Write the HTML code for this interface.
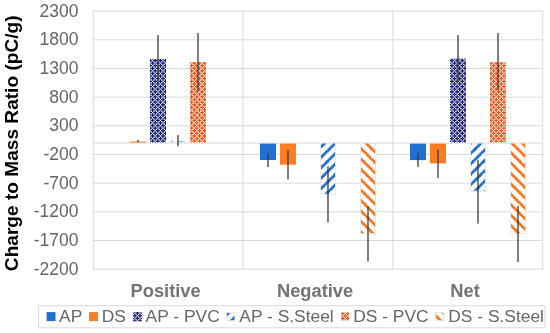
<!DOCTYPE html><html><head><meta charset="utf-8"><style>html,body{margin:0;padding:0;background:#fff;overflow:hidden}svg{display:block}text{font-family:'Liberation Sans', Arial, sans-serif}</style></head><body>
<svg width="550" height="333" viewBox="0 0 550 333">
<defs>
<pattern id="pNavy" patternUnits="userSpaceOnUse" x="1.017" y="1.293" width="5.2052" height="5.2052"><rect width="5.2052" height="5.2052" fill="#fff"/><path fill="#0b166c" d="M0.0000,0.0000h1.3013v1.3013h-1.3013zM2.6026,0.0000h1.3013v1.3013h-1.3013zM1.3013,1.3013h3.9039v1.3013h-3.9039zM0.0000,2.6026h1.3013v1.3013h-1.3013zM2.6026,2.6026h1.3013v1.3013h-1.3013zM0.0000,3.9039h2.6026v1.3013h-2.6026zM3.9039,3.9039h1.3013v1.3013h-1.3013z"/></pattern>
<pattern id="pOrD" patternUnits="userSpaceOnUse" x="1.017" y="1.293" width="5.2052" height="5.2052"><rect width="5.2052" height="5.2052" fill="#fff"/><path fill="#e25012" d="M0.0000,0.0000h1.3013v1.3013h-1.3013zM2.6026,0.0000h1.3013v1.3013h-1.3013zM1.3013,1.3013h3.9039v1.3013h-3.9039zM0.0000,2.6026h1.3013v1.3013h-1.3013zM2.6026,2.6026h1.3013v1.3013h-1.3013zM0.0000,3.9039h2.6026v1.3013h-2.6026zM3.9039,3.9039h1.3013v1.3013h-1.3013z"/></pattern>
<pattern id="pBlS" patternUnits="userSpaceOnUse" x="10.000" y="0.000" width="10.4104" height="10.4104"><rect width="10.4104" height="10.4104" fill="#fff"/><path fill="#1f70d0" d="M0.0000,0.0000h1.3013v1.3013h-1.3013zM7.8078,0.0000h2.6026v1.3013h-2.6026zM6.5065,1.3013h3.9039v1.3013h-3.9039zM5.2052,2.6026h3.9039v1.3013h-3.9039zM3.9039,3.9039h3.9039v1.3013h-3.9039zM2.6026,5.2052h3.9039v1.3013h-3.9039zM1.3013,6.5065h3.9039v1.3013h-3.9039zM0.0000,7.8078h3.9039v1.3013h-3.9039zM0.0000,9.1091h2.6026v1.3013h-2.6026zM9.1091,9.1091h1.3013v1.3013h-1.3013z"/></pattern>
<pattern id="pOrS" patternUnits="userSpaceOnUse" x="4.300" y="0.000" width="10.4104" height="10.4104"><rect width="10.4104" height="10.4104" fill="#fff"/><path fill="#f87520" d="M0.0000,0.0000h2.6026v1.3013h-2.6026zM9.1091,0.0000h1.3013v1.3013h-1.3013zM0.0000,1.3013h3.9039v1.3013h-3.9039zM1.3013,2.6026h3.9039v1.3013h-3.9039zM2.6026,3.9039h3.9039v1.3013h-3.9039zM3.9039,5.2052h3.9039v1.3013h-3.9039zM5.2052,6.5065h3.9039v1.3013h-3.9039zM6.5065,7.8078h3.9039v1.3013h-3.9039zM0.0000,9.1091h1.3013v1.3013h-1.3013zM7.8078,9.1091h2.6026v1.3013h-2.6026z"/></pattern>
</defs>
<line x1="93.3" y1="11.15" x2="542.7" y2="11.15" stroke="#d9d9d9" stroke-width="1"/>
<line x1="93.3" y1="39.82" x2="542.7" y2="39.82" stroke="#d9d9d9" stroke-width="1"/>
<line x1="93.3" y1="68.49" x2="542.7" y2="68.49" stroke="#d9d9d9" stroke-width="1"/>
<line x1="93.3" y1="97.16" x2="542.7" y2="97.16" stroke="#d9d9d9" stroke-width="1"/>
<line x1="93.3" y1="125.83" x2="542.7" y2="125.83" stroke="#d9d9d9" stroke-width="1"/>
<line x1="93.3" y1="154.50" x2="542.7" y2="154.50" stroke="#d9d9d9" stroke-width="1"/>
<line x1="93.3" y1="183.17" x2="542.7" y2="183.17" stroke="#d9d9d9" stroke-width="1"/>
<line x1="93.3" y1="211.84" x2="542.7" y2="211.84" stroke="#d9d9d9" stroke-width="1"/>
<line x1="93.3" y1="240.51" x2="542.7" y2="240.51" stroke="#d9d9d9" stroke-width="1"/>
<line x1="93.3" y1="269.18" x2="542.7" y2="269.18" stroke="#d9d9d9" stroke-width="1"/>
<line x1="93.30" y1="10.65" x2="93.30" y2="269.68" stroke="#d9d9d9" stroke-width="1"/>
<line x1="243.00" y1="10.65" x2="243.00" y2="269.68" stroke="#d9d9d9" stroke-width="1"/>
<line x1="392.90" y1="10.65" x2="392.90" y2="269.68" stroke="#d9d9d9" stroke-width="1"/>
<line x1="542.70" y1="10.65" x2="542.70" y2="269.68" stroke="#d9d9d9" stroke-width="1"/>
<line x1="93.3" y1="143.10" x2="542.7" y2="143.10" stroke="#d9d9d9" stroke-width="1"/>
<rect x="130" y="141.50" width="16" height="1.10" fill="#fd7e22"/>
<rect x="150" y="59.00" width="16" height="83.60" fill="#fff"/>
<path fill="#0b166c" d="M150.00 59.00H150.67V59.85H150.00zM151.97 59.00H153.27V59.85H151.97zM154.57 59.00H155.87V59.85H154.57zM157.17 59.00H158.47V59.85H157.17zM159.78 59.00H161.08V59.85H159.78zM162.38 59.00H163.68V59.85H162.38zM164.98 59.00H166.00V59.85H164.98zM150.00 59.85H151.97V61.15H150.00zM153.27 59.85H157.17V61.15H153.27zM158.47 59.85H162.38V61.15H158.47zM163.68 59.85H166.00V61.15H163.68zM150.00 61.15H150.67V62.45H150.00zM151.97 61.15H153.27V62.45H151.97zM154.57 61.15H155.87V62.45H154.57zM157.17 61.15H158.47V62.45H157.17zM159.78 61.15H161.08V62.45H159.78zM162.38 61.15H163.68V62.45H162.38zM164.98 61.15H166.00V62.45H164.98zM150.67 62.45H154.57V63.76H150.67zM155.87 62.45H159.78V63.76H155.87zM161.08 62.45H164.98V63.76H161.08zM150.00 63.76H150.67V65.06H150.00zM151.97 63.76H153.27V65.06H151.97zM154.57 63.76H155.87V65.06H154.57zM157.17 63.76H158.47V65.06H157.17zM159.78 63.76H161.08V65.06H159.78zM162.38 63.76H163.68V65.06H162.38zM164.98 63.76H166.00V65.06H164.98zM150.00 65.06H151.97V66.36H150.00zM153.27 65.06H157.17V66.36H153.27zM158.47 65.06H162.38V66.36H158.47zM163.68 65.06H166.00V66.36H163.68zM150.00 66.36H150.67V67.66H150.00zM151.97 66.36H153.27V67.66H151.97zM154.57 66.36H155.87V67.66H154.57zM157.17 66.36H158.47V67.66H157.17zM159.78 66.36H161.08V67.66H159.78zM162.38 66.36H163.68V67.66H162.38zM164.98 66.36H166.00V67.66H164.98zM150.67 67.66H154.57V68.96H150.67zM155.87 67.66H159.78V68.96H155.87zM161.08 67.66H164.98V68.96H161.08zM150.00 68.96H150.67V70.26H150.00zM151.97 68.96H153.27V70.26H151.97zM154.57 68.96H155.87V70.26H154.57zM157.17 68.96H158.47V70.26H157.17zM159.78 68.96H161.08V70.26H159.78zM162.38 68.96H163.68V70.26H162.38zM164.98 68.96H166.00V70.26H164.98zM150.00 70.26H151.97V71.56H150.00zM153.27 70.26H157.17V71.56H153.27zM158.47 70.26H162.38V71.56H158.47zM163.68 70.26H166.00V71.56H163.68zM150.00 71.56H150.67V72.86H150.00zM151.97 71.56H153.27V72.86H151.97zM154.57 71.56H155.87V72.86H154.57zM157.17 71.56H158.47V72.86H157.17zM159.78 71.56H161.08V72.86H159.78zM162.38 71.56H163.68V72.86H162.38zM164.98 71.56H166.00V72.86H164.98zM150.67 72.86H154.57V74.17H150.67zM155.87 72.86H159.78V74.17H155.87zM161.08 72.86H164.98V74.17H161.08zM150.00 74.17H150.67V75.47H150.00zM151.97 74.17H153.27V75.47H151.97zM154.57 74.17H155.87V75.47H154.57zM157.17 74.17H158.47V75.47H157.17zM159.78 74.17H161.08V75.47H159.78zM162.38 74.17H163.68V75.47H162.38zM164.98 74.17H166.00V75.47H164.98zM150.00 75.47H151.97V76.77H150.00zM153.27 75.47H157.17V76.77H153.27zM158.47 75.47H162.38V76.77H158.47zM163.68 75.47H166.00V76.77H163.68zM150.00 76.77H150.67V78.07H150.00zM151.97 76.77H153.27V78.07H151.97zM154.57 76.77H155.87V78.07H154.57zM157.17 76.77H158.47V78.07H157.17zM159.78 76.77H161.08V78.07H159.78zM162.38 76.77H163.68V78.07H162.38zM164.98 76.77H166.00V78.07H164.98zM150.67 78.07H154.57V79.37H150.67zM155.87 78.07H159.78V79.37H155.87zM161.08 78.07H164.98V79.37H161.08zM150.00 79.37H150.67V80.67H150.00zM151.97 79.37H153.27V80.67H151.97zM154.57 79.37H155.87V80.67H154.57zM157.17 79.37H158.47V80.67H157.17zM159.78 79.37H161.08V80.67H159.78zM162.38 79.37H163.68V80.67H162.38zM164.98 79.37H166.00V80.67H164.98zM150.00 80.67H151.97V81.97H150.00zM153.27 80.67H157.17V81.97H153.27zM158.47 80.67H162.38V81.97H158.47zM163.68 80.67H166.00V81.97H163.68zM150.00 81.97H150.67V83.27H150.00zM151.97 81.97H153.27V83.27H151.97zM154.57 81.97H155.87V83.27H154.57zM157.17 81.97H158.47V83.27H157.17zM159.78 81.97H161.08V83.27H159.78zM162.38 81.97H163.68V83.27H162.38zM164.98 81.97H166.00V83.27H164.98zM150.67 83.27H154.57V84.58H150.67zM155.87 83.27H159.78V84.58H155.87zM161.08 83.27H164.98V84.58H161.08zM150.00 84.58H150.67V85.88H150.00zM151.97 84.58H153.27V85.88H151.97zM154.57 84.58H155.87V85.88H154.57zM157.17 84.58H158.47V85.88H157.17zM159.78 84.58H161.08V85.88H159.78zM162.38 84.58H163.68V85.88H162.38zM164.98 84.58H166.00V85.88H164.98zM150.00 85.88H151.97V87.18H150.00zM153.27 85.88H157.17V87.18H153.27zM158.47 85.88H162.38V87.18H158.47zM163.68 85.88H166.00V87.18H163.68zM150.00 87.18H150.67V88.48H150.00zM151.97 87.18H153.27V88.48H151.97zM154.57 87.18H155.87V88.48H154.57zM157.17 87.18H158.47V88.48H157.17zM159.78 87.18H161.08V88.48H159.78zM162.38 87.18H163.68V88.48H162.38zM164.98 87.18H166.00V88.48H164.98zM150.67 88.48H154.57V89.78H150.67zM155.87 88.48H159.78V89.78H155.87zM161.08 88.48H164.98V89.78H161.08zM150.00 89.78H150.67V91.08H150.00zM151.97 89.78H153.27V91.08H151.97zM154.57 89.78H155.87V91.08H154.57zM157.17 89.78H158.47V91.08H157.17zM159.78 89.78H161.08V91.08H159.78zM162.38 89.78H163.68V91.08H162.38zM164.98 89.78H166.00V91.08H164.98zM150.00 91.08H151.97V92.38H150.00zM153.27 91.08H157.17V92.38H153.27zM158.47 91.08H162.38V92.38H158.47zM163.68 91.08H166.00V92.38H163.68zM150.00 92.38H150.67V93.69H150.00zM151.97 92.38H153.27V93.69H151.97zM154.57 92.38H155.87V93.69H154.57zM157.17 92.38H158.47V93.69H157.17zM159.78 92.38H161.08V93.69H159.78zM162.38 92.38H163.68V93.69H162.38zM164.98 92.38H166.00V93.69H164.98zM150.67 93.69H154.57V94.99H150.67zM155.87 93.69H159.78V94.99H155.87zM161.08 93.69H164.98V94.99H161.08zM150.00 94.99H150.67V96.29H150.00zM151.97 94.99H153.27V96.29H151.97zM154.57 94.99H155.87V96.29H154.57zM157.17 94.99H158.47V96.29H157.17zM159.78 94.99H161.08V96.29H159.78zM162.38 94.99H163.68V96.29H162.38zM164.98 94.99H166.00V96.29H164.98zM150.00 96.29H151.97V97.59H150.00zM153.27 96.29H157.17V97.59H153.27zM158.47 96.29H162.38V97.59H158.47zM163.68 96.29H166.00V97.59H163.68zM150.00 97.59H150.67V98.89H150.00zM151.97 97.59H153.27V98.89H151.97zM154.57 97.59H155.87V98.89H154.57zM157.17 97.59H158.47V98.89H157.17zM159.78 97.59H161.08V98.89H159.78zM162.38 97.59H163.68V98.89H162.38zM164.98 97.59H166.00V98.89H164.98zM150.67 98.89H154.57V100.19H150.67zM155.87 98.89H159.78V100.19H155.87zM161.08 98.89H164.98V100.19H161.08zM150.00 100.19H150.67V101.49H150.00zM151.97 100.19H153.27V101.49H151.97zM154.57 100.19H155.87V101.49H154.57zM157.17 100.19H158.47V101.49H157.17zM159.78 100.19H161.08V101.49H159.78zM162.38 100.19H163.68V101.49H162.38zM164.98 100.19H166.00V101.49H164.98zM150.00 101.49H151.97V102.79H150.00zM153.27 101.49H157.17V102.79H153.27zM158.47 101.49H162.38V102.79H158.47zM163.68 101.49H166.00V102.79H163.68zM150.00 102.79H150.67V104.10H150.00zM151.97 102.79H153.27V104.10H151.97zM154.57 102.79H155.87V104.10H154.57zM157.17 102.79H158.47V104.10H157.17zM159.78 102.79H161.08V104.10H159.78zM162.38 102.79H163.68V104.10H162.38zM164.98 102.79H166.00V104.10H164.98zM150.67 104.10H154.57V105.40H150.67zM155.87 104.10H159.78V105.40H155.87zM161.08 104.10H164.98V105.40H161.08zM150.00 105.40H150.67V106.70H150.00zM151.97 105.40H153.27V106.70H151.97zM154.57 105.40H155.87V106.70H154.57zM157.17 105.40H158.47V106.70H157.17zM159.78 105.40H161.08V106.70H159.78zM162.38 105.40H163.68V106.70H162.38zM164.98 105.40H166.00V106.70H164.98zM150.00 106.70H151.97V108.00H150.00zM153.27 106.70H157.17V108.00H153.27zM158.47 106.70H162.38V108.00H158.47zM163.68 106.70H166.00V108.00H163.68zM150.00 108.00H150.67V109.30H150.00zM151.97 108.00H153.27V109.30H151.97zM154.57 108.00H155.87V109.30H154.57zM157.17 108.00H158.47V109.30H157.17zM159.78 108.00H161.08V109.30H159.78zM162.38 108.00H163.68V109.30H162.38zM164.98 108.00H166.00V109.30H164.98zM150.67 109.30H154.57V110.60H150.67zM155.87 109.30H159.78V110.60H155.87zM161.08 109.30H164.98V110.60H161.08zM150.00 110.60H150.67V111.90H150.00zM151.97 110.60H153.27V111.90H151.97zM154.57 110.60H155.87V111.90H154.57zM157.17 110.60H158.47V111.90H157.17zM159.78 110.60H161.08V111.90H159.78zM162.38 110.60H163.68V111.90H162.38zM164.98 110.60H166.00V111.90H164.98zM150.00 111.90H151.97V113.20H150.00zM153.27 111.90H157.17V113.20H153.27zM158.47 111.90H162.38V113.20H158.47zM163.68 111.90H166.00V113.20H163.68zM150.00 113.20H150.67V114.51H150.00zM151.97 113.20H153.27V114.51H151.97zM154.57 113.20H155.87V114.51H154.57zM157.17 113.20H158.47V114.51H157.17zM159.78 113.20H161.08V114.51H159.78zM162.38 113.20H163.68V114.51H162.38zM164.98 113.20H166.00V114.51H164.98zM150.67 114.51H154.57V115.81H150.67zM155.87 114.51H159.78V115.81H155.87zM161.08 114.51H164.98V115.81H161.08zM150.00 115.81H150.67V117.11H150.00zM151.97 115.81H153.27V117.11H151.97zM154.57 115.81H155.87V117.11H154.57zM157.17 115.81H158.47V117.11H157.17zM159.78 115.81H161.08V117.11H159.78zM162.38 115.81H163.68V117.11H162.38zM164.98 115.81H166.00V117.11H164.98zM150.00 117.11H151.97V118.41H150.00zM153.27 117.11H157.17V118.41H153.27zM158.47 117.11H162.38V118.41H158.47zM163.68 117.11H166.00V118.41H163.68zM150.00 118.41H150.67V119.71H150.00zM151.97 118.41H153.27V119.71H151.97zM154.57 118.41H155.87V119.71H154.57zM157.17 118.41H158.47V119.71H157.17zM159.78 118.41H161.08V119.71H159.78zM162.38 118.41H163.68V119.71H162.38zM164.98 118.41H166.00V119.71H164.98zM150.67 119.71H154.57V121.01H150.67zM155.87 119.71H159.78V121.01H155.87zM161.08 119.71H164.98V121.01H161.08zM150.00 121.01H150.67V122.31H150.00zM151.97 121.01H153.27V122.31H151.97zM154.57 121.01H155.87V122.31H154.57zM157.17 121.01H158.47V122.31H157.17zM159.78 121.01H161.08V122.31H159.78zM162.38 121.01H163.68V122.31H162.38zM164.98 121.01H166.00V122.31H164.98zM150.00 122.31H151.97V123.62H150.00zM153.27 122.31H157.17V123.62H153.27zM158.47 122.31H162.38V123.62H158.47zM163.68 122.31H166.00V123.62H163.68zM150.00 123.62H150.67V124.92H150.00zM151.97 123.62H153.27V124.92H151.97zM154.57 123.62H155.87V124.92H154.57zM157.17 123.62H158.47V124.92H157.17zM159.78 123.62H161.08V124.92H159.78zM162.38 123.62H163.68V124.92H162.38zM164.98 123.62H166.00V124.92H164.98zM150.67 124.92H154.57V126.22H150.67zM155.87 124.92H159.78V126.22H155.87zM161.08 124.92H164.98V126.22H161.08zM150.00 126.22H150.67V127.52H150.00zM151.97 126.22H153.27V127.52H151.97zM154.57 126.22H155.87V127.52H154.57zM157.17 126.22H158.47V127.52H157.17zM159.78 126.22H161.08V127.52H159.78zM162.38 126.22H163.68V127.52H162.38zM164.98 126.22H166.00V127.52H164.98zM150.00 127.52H151.97V128.82H150.00zM153.27 127.52H157.17V128.82H153.27zM158.47 127.52H162.38V128.82H158.47zM163.68 127.52H166.00V128.82H163.68zM150.00 128.82H150.67V130.12H150.00zM151.97 128.82H153.27V130.12H151.97zM154.57 128.82H155.87V130.12H154.57zM157.17 128.82H158.47V130.12H157.17zM159.78 128.82H161.08V130.12H159.78zM162.38 128.82H163.68V130.12H162.38zM164.98 128.82H166.00V130.12H164.98zM150.67 130.12H154.57V131.42H150.67zM155.87 130.12H159.78V131.42H155.87zM161.08 130.12H164.98V131.42H161.08zM150.00 131.42H150.67V132.72H150.00zM151.97 131.42H153.27V132.72H151.97zM154.57 131.42H155.87V132.72H154.57zM157.17 131.42H158.47V132.72H157.17zM159.78 131.42H161.08V132.72H159.78zM162.38 131.42H163.68V132.72H162.38zM164.98 131.42H166.00V132.72H164.98zM150.00 132.72H151.97V134.03H150.00zM153.27 132.72H157.17V134.03H153.27zM158.47 132.72H162.38V134.03H158.47zM163.68 132.72H166.00V134.03H163.68zM150.00 134.03H150.67V135.33H150.00zM151.97 134.03H153.27V135.33H151.97zM154.57 134.03H155.87V135.33H154.57zM157.17 134.03H158.47V135.33H157.17zM159.78 134.03H161.08V135.33H159.78zM162.38 134.03H163.68V135.33H162.38zM164.98 134.03H166.00V135.33H164.98zM150.67 135.33H154.57V136.63H150.67zM155.87 135.33H159.78V136.63H155.87zM161.08 135.33H164.98V136.63H161.08zM150.00 136.63H150.67V137.93H150.00zM151.97 136.63H153.27V137.93H151.97zM154.57 136.63H155.87V137.93H154.57zM157.17 136.63H158.47V137.93H157.17zM159.78 136.63H161.08V137.93H159.78zM162.38 136.63H163.68V137.93H162.38zM164.98 136.63H166.00V137.93H164.98zM150.00 137.93H151.97V139.23H150.00zM153.27 137.93H157.17V139.23H153.27zM158.47 137.93H162.38V139.23H158.47zM163.68 137.93H166.00V139.23H163.68zM150.00 139.23H150.67V140.53H150.00zM151.97 139.23H153.27V140.53H151.97zM154.57 139.23H155.87V140.53H154.57zM157.17 139.23H158.47V140.53H157.17zM159.78 139.23H161.08V140.53H159.78zM162.38 139.23H163.68V140.53H162.38zM164.98 139.23H166.00V140.53H164.98zM150.67 140.53H154.57V141.83H150.67zM155.87 140.53H159.78V141.83H155.87zM161.08 140.53H164.98V141.83H161.08zM150.00 141.83H150.67V142.60H150.00zM151.97 141.83H153.27V142.60H151.97zM154.57 141.83H155.87V142.60H154.57zM157.17 141.83H158.47V142.60H157.17zM159.78 141.83H161.08V142.60H159.78zM162.38 141.83H163.68V142.60H162.38zM164.98 141.83H166.00V142.60H164.98z"/>
<rect x="170.4" y="141.00" width="15.2" height="1.20" fill="#fff" stroke="#e4e4e4" stroke-width="0.8"/>
<path fill="#1f70d0" d="M171.00 141.00H172.66V141.60H171.00zM179.17 141.00H183.07V141.60H179.17z"/>
<rect x="190" y="62.00" width="16" height="80.60" fill="#fff"/>
<path fill="#e25012" d="M191.01 62.00H192.31V62.45H191.01zM193.61 62.00H194.91V62.45H193.61zM196.21 62.00H197.51V62.45H196.21zM198.81 62.00H200.12V62.45H198.81zM201.42 62.00H202.72V62.45H201.42zM204.02 62.00H205.32V62.45H204.02zM190.00 62.45H191.01V63.76H190.00zM192.31 62.45H196.21V63.76H192.31zM197.51 62.45H201.42V63.76H197.51zM202.72 62.45H206.00V63.76H202.72zM191.01 63.76H192.31V65.06H191.01zM193.61 63.76H194.91V65.06H193.61zM196.21 63.76H197.51V65.06H196.21zM198.81 63.76H200.12V65.06H198.81zM201.42 63.76H202.72V65.06H201.42zM204.02 63.76H205.32V65.06H204.02zM190.00 65.06H193.61V66.36H190.00zM194.91 65.06H198.81V66.36H194.91zM200.12 65.06H204.02V66.36H200.12zM205.32 65.06H206.00V66.36H205.32zM191.01 66.36H192.31V67.66H191.01zM193.61 66.36H194.91V67.66H193.61zM196.21 66.36H197.51V67.66H196.21zM198.81 66.36H200.12V67.66H198.81zM201.42 66.36H202.72V67.66H201.42zM204.02 66.36H205.32V67.66H204.02zM190.00 67.66H191.01V68.96H190.00zM192.31 67.66H196.21V68.96H192.31zM197.51 67.66H201.42V68.96H197.51zM202.72 67.66H206.00V68.96H202.72zM191.01 68.96H192.31V70.26H191.01zM193.61 68.96H194.91V70.26H193.61zM196.21 68.96H197.51V70.26H196.21zM198.81 68.96H200.12V70.26H198.81zM201.42 68.96H202.72V70.26H201.42zM204.02 68.96H205.32V70.26H204.02zM190.00 70.26H193.61V71.56H190.00zM194.91 70.26H198.81V71.56H194.91zM200.12 70.26H204.02V71.56H200.12zM205.32 70.26H206.00V71.56H205.32zM191.01 71.56H192.31V72.86H191.01zM193.61 71.56H194.91V72.86H193.61zM196.21 71.56H197.51V72.86H196.21zM198.81 71.56H200.12V72.86H198.81zM201.42 71.56H202.72V72.86H201.42zM204.02 71.56H205.32V72.86H204.02zM190.00 72.86H191.01V74.17H190.00zM192.31 72.86H196.21V74.17H192.31zM197.51 72.86H201.42V74.17H197.51zM202.72 72.86H206.00V74.17H202.72zM191.01 74.17H192.31V75.47H191.01zM193.61 74.17H194.91V75.47H193.61zM196.21 74.17H197.51V75.47H196.21zM198.81 74.17H200.12V75.47H198.81zM201.42 74.17H202.72V75.47H201.42zM204.02 74.17H205.32V75.47H204.02zM190.00 75.47H193.61V76.77H190.00zM194.91 75.47H198.81V76.77H194.91zM200.12 75.47H204.02V76.77H200.12zM205.32 75.47H206.00V76.77H205.32zM191.01 76.77H192.31V78.07H191.01zM193.61 76.77H194.91V78.07H193.61zM196.21 76.77H197.51V78.07H196.21zM198.81 76.77H200.12V78.07H198.81zM201.42 76.77H202.72V78.07H201.42zM204.02 76.77H205.32V78.07H204.02zM190.00 78.07H191.01V79.37H190.00zM192.31 78.07H196.21V79.37H192.31zM197.51 78.07H201.42V79.37H197.51zM202.72 78.07H206.00V79.37H202.72zM191.01 79.37H192.31V80.67H191.01zM193.61 79.37H194.91V80.67H193.61zM196.21 79.37H197.51V80.67H196.21zM198.81 79.37H200.12V80.67H198.81zM201.42 79.37H202.72V80.67H201.42zM204.02 79.37H205.32V80.67H204.02zM190.00 80.67H193.61V81.97H190.00zM194.91 80.67H198.81V81.97H194.91zM200.12 80.67H204.02V81.97H200.12zM205.32 80.67H206.00V81.97H205.32zM191.01 81.97H192.31V83.27H191.01zM193.61 81.97H194.91V83.27H193.61zM196.21 81.97H197.51V83.27H196.21zM198.81 81.97H200.12V83.27H198.81zM201.42 81.97H202.72V83.27H201.42zM204.02 81.97H205.32V83.27H204.02zM190.00 83.27H191.01V84.58H190.00zM192.31 83.27H196.21V84.58H192.31zM197.51 83.27H201.42V84.58H197.51zM202.72 83.27H206.00V84.58H202.72zM191.01 84.58H192.31V85.88H191.01zM193.61 84.58H194.91V85.88H193.61zM196.21 84.58H197.51V85.88H196.21zM198.81 84.58H200.12V85.88H198.81zM201.42 84.58H202.72V85.88H201.42zM204.02 84.58H205.32V85.88H204.02zM190.00 85.88H193.61V87.18H190.00zM194.91 85.88H198.81V87.18H194.91zM200.12 85.88H204.02V87.18H200.12zM205.32 85.88H206.00V87.18H205.32zM191.01 87.18H192.31V88.48H191.01zM193.61 87.18H194.91V88.48H193.61zM196.21 87.18H197.51V88.48H196.21zM198.81 87.18H200.12V88.48H198.81zM201.42 87.18H202.72V88.48H201.42zM204.02 87.18H205.32V88.48H204.02zM190.00 88.48H191.01V89.78H190.00zM192.31 88.48H196.21V89.78H192.31zM197.51 88.48H201.42V89.78H197.51zM202.72 88.48H206.00V89.78H202.72zM191.01 89.78H192.31V91.08H191.01zM193.61 89.78H194.91V91.08H193.61zM196.21 89.78H197.51V91.08H196.21zM198.81 89.78H200.12V91.08H198.81zM201.42 89.78H202.72V91.08H201.42zM204.02 89.78H205.32V91.08H204.02zM190.00 91.08H193.61V92.38H190.00zM194.91 91.08H198.81V92.38H194.91zM200.12 91.08H204.02V92.38H200.12zM205.32 91.08H206.00V92.38H205.32zM191.01 92.38H192.31V93.69H191.01zM193.61 92.38H194.91V93.69H193.61zM196.21 92.38H197.51V93.69H196.21zM198.81 92.38H200.12V93.69H198.81zM201.42 92.38H202.72V93.69H201.42zM204.02 92.38H205.32V93.69H204.02zM190.00 93.69H191.01V94.99H190.00zM192.31 93.69H196.21V94.99H192.31zM197.51 93.69H201.42V94.99H197.51zM202.72 93.69H206.00V94.99H202.72zM191.01 94.99H192.31V96.29H191.01zM193.61 94.99H194.91V96.29H193.61zM196.21 94.99H197.51V96.29H196.21zM198.81 94.99H200.12V96.29H198.81zM201.42 94.99H202.72V96.29H201.42zM204.02 94.99H205.32V96.29H204.02zM190.00 96.29H193.61V97.59H190.00zM194.91 96.29H198.81V97.59H194.91zM200.12 96.29H204.02V97.59H200.12zM205.32 96.29H206.00V97.59H205.32zM191.01 97.59H192.31V98.89H191.01zM193.61 97.59H194.91V98.89H193.61zM196.21 97.59H197.51V98.89H196.21zM198.81 97.59H200.12V98.89H198.81zM201.42 97.59H202.72V98.89H201.42zM204.02 97.59H205.32V98.89H204.02zM190.00 98.89H191.01V100.19H190.00zM192.31 98.89H196.21V100.19H192.31zM197.51 98.89H201.42V100.19H197.51zM202.72 98.89H206.00V100.19H202.72zM191.01 100.19H192.31V101.49H191.01zM193.61 100.19H194.91V101.49H193.61zM196.21 100.19H197.51V101.49H196.21zM198.81 100.19H200.12V101.49H198.81zM201.42 100.19H202.72V101.49H201.42zM204.02 100.19H205.32V101.49H204.02zM190.00 101.49H193.61V102.79H190.00zM194.91 101.49H198.81V102.79H194.91zM200.12 101.49H204.02V102.79H200.12zM205.32 101.49H206.00V102.79H205.32zM191.01 102.79H192.31V104.10H191.01zM193.61 102.79H194.91V104.10H193.61zM196.21 102.79H197.51V104.10H196.21zM198.81 102.79H200.12V104.10H198.81zM201.42 102.79H202.72V104.10H201.42zM204.02 102.79H205.32V104.10H204.02zM190.00 104.10H191.01V105.40H190.00zM192.31 104.10H196.21V105.40H192.31zM197.51 104.10H201.42V105.40H197.51zM202.72 104.10H206.00V105.40H202.72zM191.01 105.40H192.31V106.70H191.01zM193.61 105.40H194.91V106.70H193.61zM196.21 105.40H197.51V106.70H196.21zM198.81 105.40H200.12V106.70H198.81zM201.42 105.40H202.72V106.70H201.42zM204.02 105.40H205.32V106.70H204.02zM190.00 106.70H193.61V108.00H190.00zM194.91 106.70H198.81V108.00H194.91zM200.12 106.70H204.02V108.00H200.12zM205.32 106.70H206.00V108.00H205.32zM191.01 108.00H192.31V109.30H191.01zM193.61 108.00H194.91V109.30H193.61zM196.21 108.00H197.51V109.30H196.21zM198.81 108.00H200.12V109.30H198.81zM201.42 108.00H202.72V109.30H201.42zM204.02 108.00H205.32V109.30H204.02zM190.00 109.30H191.01V110.60H190.00zM192.31 109.30H196.21V110.60H192.31zM197.51 109.30H201.42V110.60H197.51zM202.72 109.30H206.00V110.60H202.72zM191.01 110.60H192.31V111.90H191.01zM193.61 110.60H194.91V111.90H193.61zM196.21 110.60H197.51V111.90H196.21zM198.81 110.60H200.12V111.90H198.81zM201.42 110.60H202.72V111.90H201.42zM204.02 110.60H205.32V111.90H204.02zM190.00 111.90H193.61V113.20H190.00zM194.91 111.90H198.81V113.20H194.91zM200.12 111.90H204.02V113.20H200.12zM205.32 111.90H206.00V113.20H205.32zM191.01 113.20H192.31V114.51H191.01zM193.61 113.20H194.91V114.51H193.61zM196.21 113.20H197.51V114.51H196.21zM198.81 113.20H200.12V114.51H198.81zM201.42 113.20H202.72V114.51H201.42zM204.02 113.20H205.32V114.51H204.02zM190.00 114.51H191.01V115.81H190.00zM192.31 114.51H196.21V115.81H192.31zM197.51 114.51H201.42V115.81H197.51zM202.72 114.51H206.00V115.81H202.72zM191.01 115.81H192.31V117.11H191.01zM193.61 115.81H194.91V117.11H193.61zM196.21 115.81H197.51V117.11H196.21zM198.81 115.81H200.12V117.11H198.81zM201.42 115.81H202.72V117.11H201.42zM204.02 115.81H205.32V117.11H204.02zM190.00 117.11H193.61V118.41H190.00zM194.91 117.11H198.81V118.41H194.91zM200.12 117.11H204.02V118.41H200.12zM205.32 117.11H206.00V118.41H205.32zM191.01 118.41H192.31V119.71H191.01zM193.61 118.41H194.91V119.71H193.61zM196.21 118.41H197.51V119.71H196.21zM198.81 118.41H200.12V119.71H198.81zM201.42 118.41H202.72V119.71H201.42zM204.02 118.41H205.32V119.71H204.02zM190.00 119.71H191.01V121.01H190.00zM192.31 119.71H196.21V121.01H192.31zM197.51 119.71H201.42V121.01H197.51zM202.72 119.71H206.00V121.01H202.72zM191.01 121.01H192.31V122.31H191.01zM193.61 121.01H194.91V122.31H193.61zM196.21 121.01H197.51V122.31H196.21zM198.81 121.01H200.12V122.31H198.81zM201.42 121.01H202.72V122.31H201.42zM204.02 121.01H205.32V122.31H204.02zM190.00 122.31H193.61V123.62H190.00zM194.91 122.31H198.81V123.62H194.91zM200.12 122.31H204.02V123.62H200.12zM205.32 122.31H206.00V123.62H205.32zM191.01 123.62H192.31V124.92H191.01zM193.61 123.62H194.91V124.92H193.61zM196.21 123.62H197.51V124.92H196.21zM198.81 123.62H200.12V124.92H198.81zM201.42 123.62H202.72V124.92H201.42zM204.02 123.62H205.32V124.92H204.02zM190.00 124.92H191.01V126.22H190.00zM192.31 124.92H196.21V126.22H192.31zM197.51 124.92H201.42V126.22H197.51zM202.72 124.92H206.00V126.22H202.72zM191.01 126.22H192.31V127.52H191.01zM193.61 126.22H194.91V127.52H193.61zM196.21 126.22H197.51V127.52H196.21zM198.81 126.22H200.12V127.52H198.81zM201.42 126.22H202.72V127.52H201.42zM204.02 126.22H205.32V127.52H204.02zM190.00 127.52H193.61V128.82H190.00zM194.91 127.52H198.81V128.82H194.91zM200.12 127.52H204.02V128.82H200.12zM205.32 127.52H206.00V128.82H205.32zM191.01 128.82H192.31V130.12H191.01zM193.61 128.82H194.91V130.12H193.61zM196.21 128.82H197.51V130.12H196.21zM198.81 128.82H200.12V130.12H198.81zM201.42 128.82H202.72V130.12H201.42zM204.02 128.82H205.32V130.12H204.02zM190.00 130.12H191.01V131.42H190.00zM192.31 130.12H196.21V131.42H192.31zM197.51 130.12H201.42V131.42H197.51zM202.72 130.12H206.00V131.42H202.72zM191.01 131.42H192.31V132.72H191.01zM193.61 131.42H194.91V132.72H193.61zM196.21 131.42H197.51V132.72H196.21zM198.81 131.42H200.12V132.72H198.81zM201.42 131.42H202.72V132.72H201.42zM204.02 131.42H205.32V132.72H204.02zM190.00 132.72H193.61V134.03H190.00zM194.91 132.72H198.81V134.03H194.91zM200.12 132.72H204.02V134.03H200.12zM205.32 132.72H206.00V134.03H205.32zM191.01 134.03H192.31V135.33H191.01zM193.61 134.03H194.91V135.33H193.61zM196.21 134.03H197.51V135.33H196.21zM198.81 134.03H200.12V135.33H198.81zM201.42 134.03H202.72V135.33H201.42zM204.02 134.03H205.32V135.33H204.02zM190.00 135.33H191.01V136.63H190.00zM192.31 135.33H196.21V136.63H192.31zM197.51 135.33H201.42V136.63H197.51zM202.72 135.33H206.00V136.63H202.72zM191.01 136.63H192.31V137.93H191.01zM193.61 136.63H194.91V137.93H193.61zM196.21 136.63H197.51V137.93H196.21zM198.81 136.63H200.12V137.93H198.81zM201.42 136.63H202.72V137.93H201.42zM204.02 136.63H205.32V137.93H204.02zM190.00 137.93H193.61V139.23H190.00zM194.91 137.93H198.81V139.23H194.91zM200.12 137.93H204.02V139.23H200.12zM205.32 137.93H206.00V139.23H205.32zM191.01 139.23H192.31V140.53H191.01zM193.61 139.23H194.91V140.53H193.61zM196.21 139.23H197.51V140.53H196.21zM198.81 139.23H200.12V140.53H198.81zM201.42 139.23H202.72V140.53H201.42zM204.02 139.23H205.32V140.53H204.02zM190.00 140.53H191.01V141.83H190.00zM192.31 140.53H196.21V141.83H192.31zM197.51 140.53H201.42V141.83H197.51zM202.72 140.53H206.00V141.83H202.72zM191.01 141.83H192.31V142.60H191.01zM193.61 141.83H194.91V142.60H193.61zM196.21 141.83H197.51V142.60H196.21zM198.81 141.83H200.12V142.60H198.81zM201.42 141.83H202.72V142.60H201.42zM204.02 141.83H205.32V142.60H204.02z"/>
<rect x="260" y="143.60" width="16" height="16.40" fill="#1f70d0"/>
<rect x="280" y="143.60" width="16" height="21.10" fill="#fd7e22"/>
<rect x="320.4" y="143.60" width="15.2" height="50.70" fill="#fff" stroke="#e4e4e4" stroke-width="0.8"/>
<path fill="#1f70d0" d="M322.31 143.60H326.22V144.44H322.31zM332.72 143.60H335.00V144.44H332.72zM321.01 144.44H324.91V145.75H321.01zM331.42 144.44H335.00V145.75H331.42zM321.00 145.75H323.61V147.05H321.00zM330.12 145.75H334.02V147.05H330.12zM321.00 147.05H322.31V148.35H321.00zM328.82 147.05H332.72V148.35H328.82zM321.00 148.35H321.01V149.65H321.00zM327.52 148.35H331.42V149.65H327.52zM326.22 149.65H330.12V150.95H326.22zM324.91 150.95H328.82V152.25H324.91zM323.61 152.25H327.52V153.55H323.61zM334.02 152.25H335.00V153.55H334.02zM322.31 153.55H326.22V154.85H322.31zM332.72 153.55H335.00V154.85H332.72zM321.01 154.85H324.91V156.16H321.01zM331.42 154.85H335.00V156.16H331.42zM321.00 156.16H323.61V157.46H321.00zM330.12 156.16H334.02V157.46H330.12zM321.00 157.46H322.31V158.76H321.00zM328.82 157.46H332.72V158.76H328.82zM321.00 158.76H321.01V160.06H321.00zM327.52 158.76H331.42V160.06H327.52zM326.22 160.06H330.12V161.36H326.22zM324.91 161.36H328.82V162.66H324.91zM323.61 162.66H327.52V163.96H323.61zM334.02 162.66H335.00V163.96H334.02zM322.31 163.96H326.22V165.27H322.31zM332.72 163.96H335.00V165.27H332.72zM321.01 165.27H324.91V166.57H321.01zM331.42 165.27H335.00V166.57H331.42zM321.00 166.57H323.61V167.87H321.00zM330.12 166.57H334.02V167.87H330.12zM321.00 167.87H322.31V169.17H321.00zM328.82 167.87H332.72V169.17H328.82zM321.00 169.17H321.01V170.47H321.00zM327.52 169.17H331.42V170.47H327.52zM326.22 170.47H330.12V171.77H326.22zM324.91 171.77H328.82V173.07H324.91zM323.61 173.07H327.52V174.37H323.61zM334.02 173.07H335.00V174.37H334.02zM322.31 174.37H326.22V175.68H322.31zM332.72 174.37H335.00V175.68H332.72zM321.01 175.68H324.91V176.98H321.01zM331.42 175.68H335.00V176.98H331.42zM321.00 176.98H323.61V178.28H321.00zM330.12 176.98H334.02V178.28H330.12zM321.00 178.28H322.31V179.58H321.00zM328.82 178.28H332.72V179.58H328.82zM321.00 179.58H321.01V180.88H321.00zM327.52 179.58H331.42V180.88H327.52zM326.22 180.88H330.12V182.18H326.22zM324.91 182.18H328.82V183.48H324.91zM323.61 183.48H327.52V184.78H323.61zM334.02 183.48H335.00V184.78H334.02zM322.31 184.78H326.22V186.09H322.31zM332.72 184.78H335.00V186.09H332.72zM321.01 186.09H324.91V187.39H321.01zM331.42 186.09H335.00V187.39H331.42zM321.00 187.39H323.61V188.69H321.00zM330.12 187.39H334.02V188.69H330.12zM321.00 188.69H322.31V189.99H321.00zM328.82 188.69H332.72V189.99H328.82zM321.00 189.99H321.01V191.29H321.00zM327.52 189.99H331.42V191.29H327.52zM326.22 191.29H330.12V192.59H326.22zM324.91 192.59H328.82V193.70H324.91z"/>
<rect x="360.4" y="143.60" width="15.2" height="90.20" fill="#fff" stroke="#e4e4e4" stroke-width="0.8"/>
<path fill="#f87520" d="M364.76 143.60H368.66V144.44H364.76zM366.06 144.44H369.97V145.75H366.06zM367.36 145.75H371.27V147.05H367.36zM361.00 147.05H362.16V148.35H361.00zM368.66 147.05H372.57V148.35H368.66zM361.00 148.35H363.46V149.65H361.00zM369.97 148.35H373.87V149.65H369.97zM361.00 149.65H364.76V150.95H361.00zM371.27 149.65H375.00V150.95H371.27zM362.16 150.95H366.06V152.25H362.16zM372.57 150.95H375.00V152.25H372.57zM363.46 152.25H367.36V153.55H363.46zM373.87 152.25H375.00V153.55H373.87zM364.76 153.55H368.66V154.85H364.76zM366.06 154.85H369.97V156.16H366.06zM367.36 156.16H371.27V157.46H367.36zM361.00 157.46H362.16V158.76H361.00zM368.66 157.46H372.57V158.76H368.66zM361.00 158.76H363.46V160.06H361.00zM369.97 158.76H373.87V160.06H369.97zM361.00 160.06H364.76V161.36H361.00zM371.27 160.06H375.00V161.36H371.27zM362.16 161.36H366.06V162.66H362.16zM372.57 161.36H375.00V162.66H372.57zM363.46 162.66H367.36V163.96H363.46zM373.87 162.66H375.00V163.96H373.87zM364.76 163.96H368.66V165.27H364.76zM366.06 165.27H369.97V166.57H366.06zM367.36 166.57H371.27V167.87H367.36zM361.00 167.87H362.16V169.17H361.00zM368.66 167.87H372.57V169.17H368.66zM361.00 169.17H363.46V170.47H361.00zM369.97 169.17H373.87V170.47H369.97zM361.00 170.47H364.76V171.77H361.00zM371.27 170.47H375.00V171.77H371.27zM362.16 171.77H366.06V173.07H362.16zM372.57 171.77H375.00V173.07H372.57zM363.46 173.07H367.36V174.37H363.46zM373.87 173.07H375.00V174.37H373.87zM364.76 174.37H368.66V175.68H364.76zM366.06 175.68H369.97V176.98H366.06zM367.36 176.98H371.27V178.28H367.36zM361.00 178.28H362.16V179.58H361.00zM368.66 178.28H372.57V179.58H368.66zM361.00 179.58H363.46V180.88H361.00zM369.97 179.58H373.87V180.88H369.97zM361.00 180.88H364.76V182.18H361.00zM371.27 180.88H375.00V182.18H371.27zM362.16 182.18H366.06V183.48H362.16zM372.57 182.18H375.00V183.48H372.57zM363.46 183.48H367.36V184.78H363.46zM373.87 183.48H375.00V184.78H373.87zM364.76 184.78H368.66V186.09H364.76zM366.06 186.09H369.97V187.39H366.06zM367.36 187.39H371.27V188.69H367.36zM361.00 188.69H362.16V189.99H361.00zM368.66 188.69H372.57V189.99H368.66zM361.00 189.99H363.46V191.29H361.00zM369.97 189.99H373.87V191.29H369.97zM361.00 191.29H364.76V192.59H361.00zM371.27 191.29H375.00V192.59H371.27zM362.16 192.59H366.06V193.89H362.16zM372.57 192.59H375.00V193.89H372.57zM363.46 193.89H367.36V195.19H363.46zM373.87 193.89H375.00V195.19H373.87zM364.76 195.19H368.66V196.50H364.76zM366.06 196.50H369.97V197.80H366.06zM367.36 197.80H371.27V199.10H367.36zM361.00 199.10H362.16V200.40H361.00zM368.66 199.10H372.57V200.40H368.66zM361.00 200.40H363.46V201.70H361.00zM369.97 200.40H373.87V201.70H369.97zM361.00 201.70H364.76V203.00H361.00zM371.27 201.70H375.00V203.00H371.27zM362.16 203.00H366.06V204.30H362.16zM372.57 203.00H375.00V204.30H372.57zM363.46 204.30H367.36V205.61H363.46zM373.87 204.30H375.00V205.61H373.87zM364.76 205.61H368.66V206.91H364.76zM366.06 206.91H369.97V208.21H366.06zM367.36 208.21H371.27V209.51H367.36zM361.00 209.51H362.16V210.81H361.00zM368.66 209.51H372.57V210.81H368.66zM361.00 210.81H363.46V212.11H361.00zM369.97 210.81H373.87V212.11H369.97zM361.00 212.11H364.76V213.41H361.00zM371.27 212.11H375.00V213.41H371.27zM362.16 213.41H366.06V214.71H362.16zM372.57 213.41H375.00V214.71H372.57zM363.46 214.71H367.36V216.02H363.46zM373.87 214.71H375.00V216.02H373.87zM364.76 216.02H368.66V217.32H364.76zM366.06 217.32H369.97V218.62H366.06zM367.36 218.62H371.27V219.92H367.36zM361.00 219.92H362.16V221.22H361.00zM368.66 219.92H372.57V221.22H368.66zM361.00 221.22H363.46V222.52H361.00zM369.97 221.22H373.87V222.52H369.97zM361.00 222.52H364.76V223.82H361.00zM371.27 222.52H375.00V223.82H371.27zM362.16 223.82H366.06V225.12H362.16zM372.57 223.82H375.00V225.12H372.57zM363.46 225.12H367.36V226.43H363.46zM373.87 225.12H375.00V226.43H373.87zM364.76 226.43H368.66V227.73H364.76zM366.06 227.73H369.97V229.03H366.06zM367.36 229.03H371.27V230.33H367.36zM361.00 230.33H362.16V231.63H361.00zM368.66 230.33H372.57V231.63H368.66zM361.00 231.63H363.46V232.93H361.00zM369.97 231.63H373.87V232.93H369.97zM361.00 232.93H364.76V233.20H361.00zM371.27 232.93H375.00V233.20H371.27z"/>
<rect x="410" y="143.60" width="16" height="16.50" fill="#1f70d0"/>
<rect x="430" y="143.60" width="16" height="19.80" fill="#fd7e22"/>
<rect x="450" y="58.60" width="16" height="84.00" fill="#fff"/>
<path fill="#0b166c" d="M451.27 58.60H452.57V59.85H451.27zM453.87 58.60H455.17V59.85H453.87zM456.47 58.60H457.77V59.85H456.47zM459.07 58.60H460.38V59.85H459.07zM461.68 58.60H462.98V59.85H461.68zM464.28 58.60H465.58V59.85H464.28zM450.00 59.85H453.87V61.15H450.00zM455.17 59.85H459.07V61.15H455.17zM460.38 59.85H464.28V61.15H460.38zM465.58 59.85H466.00V61.15H465.58zM451.27 61.15H452.57V62.45H451.27zM453.87 61.15H455.17V62.45H453.87zM456.47 61.15H457.77V62.45H456.47zM459.07 61.15H460.38V62.45H459.07zM461.68 61.15H462.98V62.45H461.68zM464.28 61.15H465.58V62.45H464.28zM450.00 62.45H451.27V63.76H450.00zM452.57 62.45H456.47V63.76H452.57zM457.77 62.45H461.68V63.76H457.77zM462.98 62.45H466.00V63.76H462.98zM451.27 63.76H452.57V65.06H451.27zM453.87 63.76H455.17V65.06H453.87zM456.47 63.76H457.77V65.06H456.47zM459.07 63.76H460.38V65.06H459.07zM461.68 63.76H462.98V65.06H461.68zM464.28 63.76H465.58V65.06H464.28zM450.00 65.06H453.87V66.36H450.00zM455.17 65.06H459.07V66.36H455.17zM460.38 65.06H464.28V66.36H460.38zM465.58 65.06H466.00V66.36H465.58zM451.27 66.36H452.57V67.66H451.27zM453.87 66.36H455.17V67.66H453.87zM456.47 66.36H457.77V67.66H456.47zM459.07 66.36H460.38V67.66H459.07zM461.68 66.36H462.98V67.66H461.68zM464.28 66.36H465.58V67.66H464.28zM450.00 67.66H451.27V68.96H450.00zM452.57 67.66H456.47V68.96H452.57zM457.77 67.66H461.68V68.96H457.77zM462.98 67.66H466.00V68.96H462.98zM451.27 68.96H452.57V70.26H451.27zM453.87 68.96H455.17V70.26H453.87zM456.47 68.96H457.77V70.26H456.47zM459.07 68.96H460.38V70.26H459.07zM461.68 68.96H462.98V70.26H461.68zM464.28 68.96H465.58V70.26H464.28zM450.00 70.26H453.87V71.56H450.00zM455.17 70.26H459.07V71.56H455.17zM460.38 70.26H464.28V71.56H460.38zM465.58 70.26H466.00V71.56H465.58zM451.27 71.56H452.57V72.86H451.27zM453.87 71.56H455.17V72.86H453.87zM456.47 71.56H457.77V72.86H456.47zM459.07 71.56H460.38V72.86H459.07zM461.68 71.56H462.98V72.86H461.68zM464.28 71.56H465.58V72.86H464.28zM450.00 72.86H451.27V74.17H450.00zM452.57 72.86H456.47V74.17H452.57zM457.77 72.86H461.68V74.17H457.77zM462.98 72.86H466.00V74.17H462.98zM451.27 74.17H452.57V75.47H451.27zM453.87 74.17H455.17V75.47H453.87zM456.47 74.17H457.77V75.47H456.47zM459.07 74.17H460.38V75.47H459.07zM461.68 74.17H462.98V75.47H461.68zM464.28 74.17H465.58V75.47H464.28zM450.00 75.47H453.87V76.77H450.00zM455.17 75.47H459.07V76.77H455.17zM460.38 75.47H464.28V76.77H460.38zM465.58 75.47H466.00V76.77H465.58zM451.27 76.77H452.57V78.07H451.27zM453.87 76.77H455.17V78.07H453.87zM456.47 76.77H457.77V78.07H456.47zM459.07 76.77H460.38V78.07H459.07zM461.68 76.77H462.98V78.07H461.68zM464.28 76.77H465.58V78.07H464.28zM450.00 78.07H451.27V79.37H450.00zM452.57 78.07H456.47V79.37H452.57zM457.77 78.07H461.68V79.37H457.77zM462.98 78.07H466.00V79.37H462.98zM451.27 79.37H452.57V80.67H451.27zM453.87 79.37H455.17V80.67H453.87zM456.47 79.37H457.77V80.67H456.47zM459.07 79.37H460.38V80.67H459.07zM461.68 79.37H462.98V80.67H461.68zM464.28 79.37H465.58V80.67H464.28zM450.00 80.67H453.87V81.97H450.00zM455.17 80.67H459.07V81.97H455.17zM460.38 80.67H464.28V81.97H460.38zM465.58 80.67H466.00V81.97H465.58zM451.27 81.97H452.57V83.27H451.27zM453.87 81.97H455.17V83.27H453.87zM456.47 81.97H457.77V83.27H456.47zM459.07 81.97H460.38V83.27H459.07zM461.68 81.97H462.98V83.27H461.68zM464.28 81.97H465.58V83.27H464.28zM450.00 83.27H451.27V84.58H450.00zM452.57 83.27H456.47V84.58H452.57zM457.77 83.27H461.68V84.58H457.77zM462.98 83.27H466.00V84.58H462.98zM451.27 84.58H452.57V85.88H451.27zM453.87 84.58H455.17V85.88H453.87zM456.47 84.58H457.77V85.88H456.47zM459.07 84.58H460.38V85.88H459.07zM461.68 84.58H462.98V85.88H461.68zM464.28 84.58H465.58V85.88H464.28zM450.00 85.88H453.87V87.18H450.00zM455.17 85.88H459.07V87.18H455.17zM460.38 85.88H464.28V87.18H460.38zM465.58 85.88H466.00V87.18H465.58zM451.27 87.18H452.57V88.48H451.27zM453.87 87.18H455.17V88.48H453.87zM456.47 87.18H457.77V88.48H456.47zM459.07 87.18H460.38V88.48H459.07zM461.68 87.18H462.98V88.48H461.68zM464.28 87.18H465.58V88.48H464.28zM450.00 88.48H451.27V89.78H450.00zM452.57 88.48H456.47V89.78H452.57zM457.77 88.48H461.68V89.78H457.77zM462.98 88.48H466.00V89.78H462.98zM451.27 89.78H452.57V91.08H451.27zM453.87 89.78H455.17V91.08H453.87zM456.47 89.78H457.77V91.08H456.47zM459.07 89.78H460.38V91.08H459.07zM461.68 89.78H462.98V91.08H461.68zM464.28 89.78H465.58V91.08H464.28zM450.00 91.08H453.87V92.38H450.00zM455.17 91.08H459.07V92.38H455.17zM460.38 91.08H464.28V92.38H460.38zM465.58 91.08H466.00V92.38H465.58zM451.27 92.38H452.57V93.69H451.27zM453.87 92.38H455.17V93.69H453.87zM456.47 92.38H457.77V93.69H456.47zM459.07 92.38H460.38V93.69H459.07zM461.68 92.38H462.98V93.69H461.68zM464.28 92.38H465.58V93.69H464.28zM450.00 93.69H451.27V94.99H450.00zM452.57 93.69H456.47V94.99H452.57zM457.77 93.69H461.68V94.99H457.77zM462.98 93.69H466.00V94.99H462.98zM451.27 94.99H452.57V96.29H451.27zM453.87 94.99H455.17V96.29H453.87zM456.47 94.99H457.77V96.29H456.47zM459.07 94.99H460.38V96.29H459.07zM461.68 94.99H462.98V96.29H461.68zM464.28 94.99H465.58V96.29H464.28zM450.00 96.29H453.87V97.59H450.00zM455.17 96.29H459.07V97.59H455.17zM460.38 96.29H464.28V97.59H460.38zM465.58 96.29H466.00V97.59H465.58zM451.27 97.59H452.57V98.89H451.27zM453.87 97.59H455.17V98.89H453.87zM456.47 97.59H457.77V98.89H456.47zM459.07 97.59H460.38V98.89H459.07zM461.68 97.59H462.98V98.89H461.68zM464.28 97.59H465.58V98.89H464.28zM450.00 98.89H451.27V100.19H450.00zM452.57 98.89H456.47V100.19H452.57zM457.77 98.89H461.68V100.19H457.77zM462.98 98.89H466.00V100.19H462.98zM451.27 100.19H452.57V101.49H451.27zM453.87 100.19H455.17V101.49H453.87zM456.47 100.19H457.77V101.49H456.47zM459.07 100.19H460.38V101.49H459.07zM461.68 100.19H462.98V101.49H461.68zM464.28 100.19H465.58V101.49H464.28zM450.00 101.49H453.87V102.79H450.00zM455.17 101.49H459.07V102.79H455.17zM460.38 101.49H464.28V102.79H460.38zM465.58 101.49H466.00V102.79H465.58zM451.27 102.79H452.57V104.10H451.27zM453.87 102.79H455.17V104.10H453.87zM456.47 102.79H457.77V104.10H456.47zM459.07 102.79H460.38V104.10H459.07zM461.68 102.79H462.98V104.10H461.68zM464.28 102.79H465.58V104.10H464.28zM450.00 104.10H451.27V105.40H450.00zM452.57 104.10H456.47V105.40H452.57zM457.77 104.10H461.68V105.40H457.77zM462.98 104.10H466.00V105.40H462.98zM451.27 105.40H452.57V106.70H451.27zM453.87 105.40H455.17V106.70H453.87zM456.47 105.40H457.77V106.70H456.47zM459.07 105.40H460.38V106.70H459.07zM461.68 105.40H462.98V106.70H461.68zM464.28 105.40H465.58V106.70H464.28zM450.00 106.70H453.87V108.00H450.00zM455.17 106.70H459.07V108.00H455.17zM460.38 106.70H464.28V108.00H460.38zM465.58 106.70H466.00V108.00H465.58zM451.27 108.00H452.57V109.30H451.27zM453.87 108.00H455.17V109.30H453.87zM456.47 108.00H457.77V109.30H456.47zM459.07 108.00H460.38V109.30H459.07zM461.68 108.00H462.98V109.30H461.68zM464.28 108.00H465.58V109.30H464.28zM450.00 109.30H451.27V110.60H450.00zM452.57 109.30H456.47V110.60H452.57zM457.77 109.30H461.68V110.60H457.77zM462.98 109.30H466.00V110.60H462.98zM451.27 110.60H452.57V111.90H451.27zM453.87 110.60H455.17V111.90H453.87zM456.47 110.60H457.77V111.90H456.47zM459.07 110.60H460.38V111.90H459.07zM461.68 110.60H462.98V111.90H461.68zM464.28 110.60H465.58V111.90H464.28zM450.00 111.90H453.87V113.20H450.00zM455.17 111.90H459.07V113.20H455.17zM460.38 111.90H464.28V113.20H460.38zM465.58 111.90H466.00V113.20H465.58zM451.27 113.20H452.57V114.51H451.27zM453.87 113.20H455.17V114.51H453.87zM456.47 113.20H457.77V114.51H456.47zM459.07 113.20H460.38V114.51H459.07zM461.68 113.20H462.98V114.51H461.68zM464.28 113.20H465.58V114.51H464.28zM450.00 114.51H451.27V115.81H450.00zM452.57 114.51H456.47V115.81H452.57zM457.77 114.51H461.68V115.81H457.77zM462.98 114.51H466.00V115.81H462.98zM451.27 115.81H452.57V117.11H451.27zM453.87 115.81H455.17V117.11H453.87zM456.47 115.81H457.77V117.11H456.47zM459.07 115.81H460.38V117.11H459.07zM461.68 115.81H462.98V117.11H461.68zM464.28 115.81H465.58V117.11H464.28zM450.00 117.11H453.87V118.41H450.00zM455.17 117.11H459.07V118.41H455.17zM460.38 117.11H464.28V118.41H460.38zM465.58 117.11H466.00V118.41H465.58zM451.27 118.41H452.57V119.71H451.27zM453.87 118.41H455.17V119.71H453.87zM456.47 118.41H457.77V119.71H456.47zM459.07 118.41H460.38V119.71H459.07zM461.68 118.41H462.98V119.71H461.68zM464.28 118.41H465.58V119.71H464.28zM450.00 119.71H451.27V121.01H450.00zM452.57 119.71H456.47V121.01H452.57zM457.77 119.71H461.68V121.01H457.77zM462.98 119.71H466.00V121.01H462.98zM451.27 121.01H452.57V122.31H451.27zM453.87 121.01H455.17V122.31H453.87zM456.47 121.01H457.77V122.31H456.47zM459.07 121.01H460.38V122.31H459.07zM461.68 121.01H462.98V122.31H461.68zM464.28 121.01H465.58V122.31H464.28zM450.00 122.31H453.87V123.62H450.00zM455.17 122.31H459.07V123.62H455.17zM460.38 122.31H464.28V123.62H460.38zM465.58 122.31H466.00V123.62H465.58zM451.27 123.62H452.57V124.92H451.27zM453.87 123.62H455.17V124.92H453.87zM456.47 123.62H457.77V124.92H456.47zM459.07 123.62H460.38V124.92H459.07zM461.68 123.62H462.98V124.92H461.68zM464.28 123.62H465.58V124.92H464.28zM450.00 124.92H451.27V126.22H450.00zM452.57 124.92H456.47V126.22H452.57zM457.77 124.92H461.68V126.22H457.77zM462.98 124.92H466.00V126.22H462.98zM451.27 126.22H452.57V127.52H451.27zM453.87 126.22H455.17V127.52H453.87zM456.47 126.22H457.77V127.52H456.47zM459.07 126.22H460.38V127.52H459.07zM461.68 126.22H462.98V127.52H461.68zM464.28 126.22H465.58V127.52H464.28zM450.00 127.52H453.87V128.82H450.00zM455.17 127.52H459.07V128.82H455.17zM460.38 127.52H464.28V128.82H460.38zM465.58 127.52H466.00V128.82H465.58zM451.27 128.82H452.57V130.12H451.27zM453.87 128.82H455.17V130.12H453.87zM456.47 128.82H457.77V130.12H456.47zM459.07 128.82H460.38V130.12H459.07zM461.68 128.82H462.98V130.12H461.68zM464.28 128.82H465.58V130.12H464.28zM450.00 130.12H451.27V131.42H450.00zM452.57 130.12H456.47V131.42H452.57zM457.77 130.12H461.68V131.42H457.77zM462.98 130.12H466.00V131.42H462.98zM451.27 131.42H452.57V132.72H451.27zM453.87 131.42H455.17V132.72H453.87zM456.47 131.42H457.77V132.72H456.47zM459.07 131.42H460.38V132.72H459.07zM461.68 131.42H462.98V132.72H461.68zM464.28 131.42H465.58V132.72H464.28zM450.00 132.72H453.87V134.03H450.00zM455.17 132.72H459.07V134.03H455.17zM460.38 132.72H464.28V134.03H460.38zM465.58 132.72H466.00V134.03H465.58zM451.27 134.03H452.57V135.33H451.27zM453.87 134.03H455.17V135.33H453.87zM456.47 134.03H457.77V135.33H456.47zM459.07 134.03H460.38V135.33H459.07zM461.68 134.03H462.98V135.33H461.68zM464.28 134.03H465.58V135.33H464.28zM450.00 135.33H451.27V136.63H450.00zM452.57 135.33H456.47V136.63H452.57zM457.77 135.33H461.68V136.63H457.77zM462.98 135.33H466.00V136.63H462.98zM451.27 136.63H452.57V137.93H451.27zM453.87 136.63H455.17V137.93H453.87zM456.47 136.63H457.77V137.93H456.47zM459.07 136.63H460.38V137.93H459.07zM461.68 136.63H462.98V137.93H461.68zM464.28 136.63H465.58V137.93H464.28zM450.00 137.93H453.87V139.23H450.00zM455.17 137.93H459.07V139.23H455.17zM460.38 137.93H464.28V139.23H460.38zM465.58 137.93H466.00V139.23H465.58zM451.27 139.23H452.57V140.53H451.27zM453.87 139.23H455.17V140.53H453.87zM456.47 139.23H457.77V140.53H456.47zM459.07 139.23H460.38V140.53H459.07zM461.68 139.23H462.98V140.53H461.68zM464.28 139.23H465.58V140.53H464.28zM450.00 140.53H451.27V141.83H450.00zM452.57 140.53H456.47V141.83H452.57zM457.77 140.53H461.68V141.83H457.77zM462.98 140.53H466.00V141.83H462.98zM451.27 141.83H452.57V142.60H451.27zM453.87 141.83H455.17V142.60H453.87zM456.47 141.83H457.77V142.60H456.47zM459.07 141.83H460.38V142.60H459.07zM461.68 141.83H462.98V142.60H461.68zM464.28 141.83H465.58V142.60H464.28z"/>
<rect x="470.4" y="143.60" width="15.2" height="47.80" fill="#fff" stroke="#e4e4e4" stroke-width="0.8"/>
<path fill="#1f70d0" d="M471.00 143.60H471.96V144.44H471.00zM478.47 143.60H482.37V144.44H478.47zM477.17 144.44H481.07V145.75H477.17zM475.87 145.75H479.77V147.05H475.87zM474.56 147.05H478.47V148.35H474.56zM484.97 147.05H485.00V148.35H484.97zM473.26 148.35H477.17V149.65H473.26zM483.67 148.35H485.00V149.65H483.67zM471.96 149.65H475.87V150.95H471.96zM482.37 149.65H485.00V150.95H482.37zM471.00 150.95H474.56V152.25H471.00zM481.07 150.95H484.97V152.25H481.07zM471.00 152.25H473.26V153.55H471.00zM479.77 152.25H483.67V153.55H479.77zM471.00 153.55H471.96V154.85H471.00zM478.47 153.55H482.37V154.85H478.47zM477.17 154.85H481.07V156.16H477.17zM475.87 156.16H479.77V157.46H475.87zM474.56 157.46H478.47V158.76H474.56zM484.97 157.46H485.00V158.76H484.97zM473.26 158.76H477.17V160.06H473.26zM483.67 158.76H485.00V160.06H483.67zM471.96 160.06H475.87V161.36H471.96zM482.37 160.06H485.00V161.36H482.37zM471.00 161.36H474.56V162.66H471.00zM481.07 161.36H484.97V162.66H481.07zM471.00 162.66H473.26V163.96H471.00zM479.77 162.66H483.67V163.96H479.77zM471.00 163.96H471.96V165.27H471.00zM478.47 163.96H482.37V165.27H478.47zM477.17 165.27H481.07V166.57H477.17zM475.87 166.57H479.77V167.87H475.87zM474.56 167.87H478.47V169.17H474.56zM484.97 167.87H485.00V169.17H484.97zM473.26 169.17H477.17V170.47H473.26zM483.67 169.17H485.00V170.47H483.67zM471.96 170.47H475.87V171.77H471.96zM482.37 170.47H485.00V171.77H482.37zM471.00 171.77H474.56V173.07H471.00zM481.07 171.77H484.97V173.07H481.07zM471.00 173.07H473.26V174.37H471.00zM479.77 173.07H483.67V174.37H479.77zM471.00 174.37H471.96V175.68H471.00zM478.47 174.37H482.37V175.68H478.47zM477.17 175.68H481.07V176.98H477.17zM475.87 176.98H479.77V178.28H475.87zM474.56 178.28H478.47V179.58H474.56zM484.97 178.28H485.00V179.58H484.97zM473.26 179.58H477.17V180.88H473.26zM483.67 179.58H485.00V180.88H483.67zM471.96 180.88H475.87V182.18H471.96zM482.37 180.88H485.00V182.18H482.37zM471.00 182.18H474.56V183.48H471.00zM481.07 182.18H484.97V183.48H481.07zM471.00 183.48H473.26V184.78H471.00zM479.77 183.48H483.67V184.78H479.77zM471.00 184.78H471.96V186.09H471.00zM478.47 184.78H482.37V186.09H478.47zM477.17 186.09H481.07V187.39H477.17zM475.87 187.39H479.77V188.69H475.87zM474.56 188.69H478.47V189.99H474.56zM484.97 188.69H485.00V189.99H484.97zM473.26 189.99H477.17V190.80H473.26zM483.67 189.99H485.00V190.80H483.67z"/>
<rect x="490" y="62.20" width="16" height="80.40" fill="#fff"/>
<path fill="#e25012" d="M490.31 62.20H491.61V62.45H490.31zM492.91 62.20H494.21V62.45H492.91zM495.51 62.20H496.81V62.45H495.51zM498.11 62.20H499.41V62.45H498.11zM500.72 62.20H502.02V62.45H500.72zM503.32 62.20H504.62V62.45H503.32zM505.92 62.20H506.00V62.45H505.92zM490.00 62.45H492.91V63.76H490.00zM494.21 62.45H498.11V63.76H494.21zM499.41 62.45H503.32V63.76H499.41zM504.62 62.45H506.00V63.76H504.62zM490.31 63.76H491.61V65.06H490.31zM492.91 63.76H494.21V65.06H492.91zM495.51 63.76H496.81V65.06H495.51zM498.11 63.76H499.41V65.06H498.11zM500.72 63.76H502.02V65.06H500.72zM503.32 63.76H504.62V65.06H503.32zM505.92 63.76H506.00V65.06H505.92zM490.00 65.06H490.31V66.36H490.00zM491.61 65.06H495.51V66.36H491.61zM496.81 65.06H500.72V66.36H496.81zM502.02 65.06H505.92V66.36H502.02zM490.31 66.36H491.61V67.66H490.31zM492.91 66.36H494.21V67.66H492.91zM495.51 66.36H496.81V67.66H495.51zM498.11 66.36H499.41V67.66H498.11zM500.72 66.36H502.02V67.66H500.72zM503.32 66.36H504.62V67.66H503.32zM505.92 66.36H506.00V67.66H505.92zM490.00 67.66H492.91V68.96H490.00zM494.21 67.66H498.11V68.96H494.21zM499.41 67.66H503.32V68.96H499.41zM504.62 67.66H506.00V68.96H504.62zM490.31 68.96H491.61V70.26H490.31zM492.91 68.96H494.21V70.26H492.91zM495.51 68.96H496.81V70.26H495.51zM498.11 68.96H499.41V70.26H498.11zM500.72 68.96H502.02V70.26H500.72zM503.32 68.96H504.62V70.26H503.32zM505.92 68.96H506.00V70.26H505.92zM490.00 70.26H490.31V71.56H490.00zM491.61 70.26H495.51V71.56H491.61zM496.81 70.26H500.72V71.56H496.81zM502.02 70.26H505.92V71.56H502.02zM490.31 71.56H491.61V72.86H490.31zM492.91 71.56H494.21V72.86H492.91zM495.51 71.56H496.81V72.86H495.51zM498.11 71.56H499.41V72.86H498.11zM500.72 71.56H502.02V72.86H500.72zM503.32 71.56H504.62V72.86H503.32zM505.92 71.56H506.00V72.86H505.92zM490.00 72.86H492.91V74.17H490.00zM494.21 72.86H498.11V74.17H494.21zM499.41 72.86H503.32V74.17H499.41zM504.62 72.86H506.00V74.17H504.62zM490.31 74.17H491.61V75.47H490.31zM492.91 74.17H494.21V75.47H492.91zM495.51 74.17H496.81V75.47H495.51zM498.11 74.17H499.41V75.47H498.11zM500.72 74.17H502.02V75.47H500.72zM503.32 74.17H504.62V75.47H503.32zM505.92 74.17H506.00V75.47H505.92zM490.00 75.47H490.31V76.77H490.00zM491.61 75.47H495.51V76.77H491.61zM496.81 75.47H500.72V76.77H496.81zM502.02 75.47H505.92V76.77H502.02zM490.31 76.77H491.61V78.07H490.31zM492.91 76.77H494.21V78.07H492.91zM495.51 76.77H496.81V78.07H495.51zM498.11 76.77H499.41V78.07H498.11zM500.72 76.77H502.02V78.07H500.72zM503.32 76.77H504.62V78.07H503.32zM505.92 76.77H506.00V78.07H505.92zM490.00 78.07H492.91V79.37H490.00zM494.21 78.07H498.11V79.37H494.21zM499.41 78.07H503.32V79.37H499.41zM504.62 78.07H506.00V79.37H504.62zM490.31 79.37H491.61V80.67H490.31zM492.91 79.37H494.21V80.67H492.91zM495.51 79.37H496.81V80.67H495.51zM498.11 79.37H499.41V80.67H498.11zM500.72 79.37H502.02V80.67H500.72zM503.32 79.37H504.62V80.67H503.32zM505.92 79.37H506.00V80.67H505.92zM490.00 80.67H490.31V81.97H490.00zM491.61 80.67H495.51V81.97H491.61zM496.81 80.67H500.72V81.97H496.81zM502.02 80.67H505.92V81.97H502.02zM490.31 81.97H491.61V83.27H490.31zM492.91 81.97H494.21V83.27H492.91zM495.51 81.97H496.81V83.27H495.51zM498.11 81.97H499.41V83.27H498.11zM500.72 81.97H502.02V83.27H500.72zM503.32 81.97H504.62V83.27H503.32zM505.92 81.97H506.00V83.27H505.92zM490.00 83.27H492.91V84.58H490.00zM494.21 83.27H498.11V84.58H494.21zM499.41 83.27H503.32V84.58H499.41zM504.62 83.27H506.00V84.58H504.62zM490.31 84.58H491.61V85.88H490.31zM492.91 84.58H494.21V85.88H492.91zM495.51 84.58H496.81V85.88H495.51zM498.11 84.58H499.41V85.88H498.11zM500.72 84.58H502.02V85.88H500.72zM503.32 84.58H504.62V85.88H503.32zM505.92 84.58H506.00V85.88H505.92zM490.00 85.88H490.31V87.18H490.00zM491.61 85.88H495.51V87.18H491.61zM496.81 85.88H500.72V87.18H496.81zM502.02 85.88H505.92V87.18H502.02zM490.31 87.18H491.61V88.48H490.31zM492.91 87.18H494.21V88.48H492.91zM495.51 87.18H496.81V88.48H495.51zM498.11 87.18H499.41V88.48H498.11zM500.72 87.18H502.02V88.48H500.72zM503.32 87.18H504.62V88.48H503.32zM505.92 87.18H506.00V88.48H505.92zM490.00 88.48H492.91V89.78H490.00zM494.21 88.48H498.11V89.78H494.21zM499.41 88.48H503.32V89.78H499.41zM504.62 88.48H506.00V89.78H504.62zM490.31 89.78H491.61V91.08H490.31zM492.91 89.78H494.21V91.08H492.91zM495.51 89.78H496.81V91.08H495.51zM498.11 89.78H499.41V91.08H498.11zM500.72 89.78H502.02V91.08H500.72zM503.32 89.78H504.62V91.08H503.32zM505.92 89.78H506.00V91.08H505.92zM490.00 91.08H490.31V92.38H490.00zM491.61 91.08H495.51V92.38H491.61zM496.81 91.08H500.72V92.38H496.81zM502.02 91.08H505.92V92.38H502.02zM490.31 92.38H491.61V93.69H490.31zM492.91 92.38H494.21V93.69H492.91zM495.51 92.38H496.81V93.69H495.51zM498.11 92.38H499.41V93.69H498.11zM500.72 92.38H502.02V93.69H500.72zM503.32 92.38H504.62V93.69H503.32zM505.92 92.38H506.00V93.69H505.92zM490.00 93.69H492.91V94.99H490.00zM494.21 93.69H498.11V94.99H494.21zM499.41 93.69H503.32V94.99H499.41zM504.62 93.69H506.00V94.99H504.62zM490.31 94.99H491.61V96.29H490.31zM492.91 94.99H494.21V96.29H492.91zM495.51 94.99H496.81V96.29H495.51zM498.11 94.99H499.41V96.29H498.11zM500.72 94.99H502.02V96.29H500.72zM503.32 94.99H504.62V96.29H503.32zM505.92 94.99H506.00V96.29H505.92zM490.00 96.29H490.31V97.59H490.00zM491.61 96.29H495.51V97.59H491.61zM496.81 96.29H500.72V97.59H496.81zM502.02 96.29H505.92V97.59H502.02zM490.31 97.59H491.61V98.89H490.31zM492.91 97.59H494.21V98.89H492.91zM495.51 97.59H496.81V98.89H495.51zM498.11 97.59H499.41V98.89H498.11zM500.72 97.59H502.02V98.89H500.72zM503.32 97.59H504.62V98.89H503.32zM505.92 97.59H506.00V98.89H505.92zM490.00 98.89H492.91V100.19H490.00zM494.21 98.89H498.11V100.19H494.21zM499.41 98.89H503.32V100.19H499.41zM504.62 98.89H506.00V100.19H504.62zM490.31 100.19H491.61V101.49H490.31zM492.91 100.19H494.21V101.49H492.91zM495.51 100.19H496.81V101.49H495.51zM498.11 100.19H499.41V101.49H498.11zM500.72 100.19H502.02V101.49H500.72zM503.32 100.19H504.62V101.49H503.32zM505.92 100.19H506.00V101.49H505.92zM490.00 101.49H490.31V102.79H490.00zM491.61 101.49H495.51V102.79H491.61zM496.81 101.49H500.72V102.79H496.81zM502.02 101.49H505.92V102.79H502.02zM490.31 102.79H491.61V104.10H490.31zM492.91 102.79H494.21V104.10H492.91zM495.51 102.79H496.81V104.10H495.51zM498.11 102.79H499.41V104.10H498.11zM500.72 102.79H502.02V104.10H500.72zM503.32 102.79H504.62V104.10H503.32zM505.92 102.79H506.00V104.10H505.92zM490.00 104.10H492.91V105.40H490.00zM494.21 104.10H498.11V105.40H494.21zM499.41 104.10H503.32V105.40H499.41zM504.62 104.10H506.00V105.40H504.62zM490.31 105.40H491.61V106.70H490.31zM492.91 105.40H494.21V106.70H492.91zM495.51 105.40H496.81V106.70H495.51zM498.11 105.40H499.41V106.70H498.11zM500.72 105.40H502.02V106.70H500.72zM503.32 105.40H504.62V106.70H503.32zM505.92 105.40H506.00V106.70H505.92zM490.00 106.70H490.31V108.00H490.00zM491.61 106.70H495.51V108.00H491.61zM496.81 106.70H500.72V108.00H496.81zM502.02 106.70H505.92V108.00H502.02zM490.31 108.00H491.61V109.30H490.31zM492.91 108.00H494.21V109.30H492.91zM495.51 108.00H496.81V109.30H495.51zM498.11 108.00H499.41V109.30H498.11zM500.72 108.00H502.02V109.30H500.72zM503.32 108.00H504.62V109.30H503.32zM505.92 108.00H506.00V109.30H505.92zM490.00 109.30H492.91V110.60H490.00zM494.21 109.30H498.11V110.60H494.21zM499.41 109.30H503.32V110.60H499.41zM504.62 109.30H506.00V110.60H504.62zM490.31 110.60H491.61V111.90H490.31zM492.91 110.60H494.21V111.90H492.91zM495.51 110.60H496.81V111.90H495.51zM498.11 110.60H499.41V111.90H498.11zM500.72 110.60H502.02V111.90H500.72zM503.32 110.60H504.62V111.90H503.32zM505.92 110.60H506.00V111.90H505.92zM490.00 111.90H490.31V113.20H490.00zM491.61 111.90H495.51V113.20H491.61zM496.81 111.90H500.72V113.20H496.81zM502.02 111.90H505.92V113.20H502.02zM490.31 113.20H491.61V114.51H490.31zM492.91 113.20H494.21V114.51H492.91zM495.51 113.20H496.81V114.51H495.51zM498.11 113.20H499.41V114.51H498.11zM500.72 113.20H502.02V114.51H500.72zM503.32 113.20H504.62V114.51H503.32zM505.92 113.20H506.00V114.51H505.92zM490.00 114.51H492.91V115.81H490.00zM494.21 114.51H498.11V115.81H494.21zM499.41 114.51H503.32V115.81H499.41zM504.62 114.51H506.00V115.81H504.62zM490.31 115.81H491.61V117.11H490.31zM492.91 115.81H494.21V117.11H492.91zM495.51 115.81H496.81V117.11H495.51zM498.11 115.81H499.41V117.11H498.11zM500.72 115.81H502.02V117.11H500.72zM503.32 115.81H504.62V117.11H503.32zM505.92 115.81H506.00V117.11H505.92zM490.00 117.11H490.31V118.41H490.00zM491.61 117.11H495.51V118.41H491.61zM496.81 117.11H500.72V118.41H496.81zM502.02 117.11H505.92V118.41H502.02zM490.31 118.41H491.61V119.71H490.31zM492.91 118.41H494.21V119.71H492.91zM495.51 118.41H496.81V119.71H495.51zM498.11 118.41H499.41V119.71H498.11zM500.72 118.41H502.02V119.71H500.72zM503.32 118.41H504.62V119.71H503.32zM505.92 118.41H506.00V119.71H505.92zM490.00 119.71H492.91V121.01H490.00zM494.21 119.71H498.11V121.01H494.21zM499.41 119.71H503.32V121.01H499.41zM504.62 119.71H506.00V121.01H504.62zM490.31 121.01H491.61V122.31H490.31zM492.91 121.01H494.21V122.31H492.91zM495.51 121.01H496.81V122.31H495.51zM498.11 121.01H499.41V122.31H498.11zM500.72 121.01H502.02V122.31H500.72zM503.32 121.01H504.62V122.31H503.32zM505.92 121.01H506.00V122.31H505.92zM490.00 122.31H490.31V123.62H490.00zM491.61 122.31H495.51V123.62H491.61zM496.81 122.31H500.72V123.62H496.81zM502.02 122.31H505.92V123.62H502.02zM490.31 123.62H491.61V124.92H490.31zM492.91 123.62H494.21V124.92H492.91zM495.51 123.62H496.81V124.92H495.51zM498.11 123.62H499.41V124.92H498.11zM500.72 123.62H502.02V124.92H500.72zM503.32 123.62H504.62V124.92H503.32zM505.92 123.62H506.00V124.92H505.92zM490.00 124.92H492.91V126.22H490.00zM494.21 124.92H498.11V126.22H494.21zM499.41 124.92H503.32V126.22H499.41zM504.62 124.92H506.00V126.22H504.62zM490.31 126.22H491.61V127.52H490.31zM492.91 126.22H494.21V127.52H492.91zM495.51 126.22H496.81V127.52H495.51zM498.11 126.22H499.41V127.52H498.11zM500.72 126.22H502.02V127.52H500.72zM503.32 126.22H504.62V127.52H503.32zM505.92 126.22H506.00V127.52H505.92zM490.00 127.52H490.31V128.82H490.00zM491.61 127.52H495.51V128.82H491.61zM496.81 127.52H500.72V128.82H496.81zM502.02 127.52H505.92V128.82H502.02zM490.31 128.82H491.61V130.12H490.31zM492.91 128.82H494.21V130.12H492.91zM495.51 128.82H496.81V130.12H495.51zM498.11 128.82H499.41V130.12H498.11zM500.72 128.82H502.02V130.12H500.72zM503.32 128.82H504.62V130.12H503.32zM505.92 128.82H506.00V130.12H505.92zM490.00 130.12H492.91V131.42H490.00zM494.21 130.12H498.11V131.42H494.21zM499.41 130.12H503.32V131.42H499.41zM504.62 130.12H506.00V131.42H504.62zM490.31 131.42H491.61V132.72H490.31zM492.91 131.42H494.21V132.72H492.91zM495.51 131.42H496.81V132.72H495.51zM498.11 131.42H499.41V132.72H498.11zM500.72 131.42H502.02V132.72H500.72zM503.32 131.42H504.62V132.72H503.32zM505.92 131.42H506.00V132.72H505.92zM490.00 132.72H490.31V134.03H490.00zM491.61 132.72H495.51V134.03H491.61zM496.81 132.72H500.72V134.03H496.81zM502.02 132.72H505.92V134.03H502.02zM490.31 134.03H491.61V135.33H490.31zM492.91 134.03H494.21V135.33H492.91zM495.51 134.03H496.81V135.33H495.51zM498.11 134.03H499.41V135.33H498.11zM500.72 134.03H502.02V135.33H500.72zM503.32 134.03H504.62V135.33H503.32zM505.92 134.03H506.00V135.33H505.92zM490.00 135.33H492.91V136.63H490.00zM494.21 135.33H498.11V136.63H494.21zM499.41 135.33H503.32V136.63H499.41zM504.62 135.33H506.00V136.63H504.62zM490.31 136.63H491.61V137.93H490.31zM492.91 136.63H494.21V137.93H492.91zM495.51 136.63H496.81V137.93H495.51zM498.11 136.63H499.41V137.93H498.11zM500.72 136.63H502.02V137.93H500.72zM503.32 136.63H504.62V137.93H503.32zM505.92 136.63H506.00V137.93H505.92zM490.00 137.93H490.31V139.23H490.00zM491.61 137.93H495.51V139.23H491.61zM496.81 137.93H500.72V139.23H496.81zM502.02 137.93H505.92V139.23H502.02zM490.31 139.23H491.61V140.53H490.31zM492.91 139.23H494.21V140.53H492.91zM495.51 139.23H496.81V140.53H495.51zM498.11 139.23H499.41V140.53H498.11zM500.72 139.23H502.02V140.53H500.72zM503.32 139.23H504.62V140.53H503.32zM505.92 139.23H506.00V140.53H505.92zM490.00 140.53H492.91V141.83H490.00zM494.21 140.53H498.11V141.83H494.21zM499.41 140.53H503.32V141.83H499.41zM504.62 140.53H506.00V141.83H504.62zM490.31 141.83H491.61V142.60H490.31zM492.91 141.83H494.21V142.60H492.91zM495.51 141.83H496.81V142.60H495.51zM498.11 141.83H499.41V142.60H498.11zM500.72 141.83H502.02V142.60H500.72zM503.32 141.83H504.62V142.60H503.32zM505.92 141.83H506.00V142.60H505.92z"/>
<rect x="510.4" y="143.60" width="15.2" height="90.20" fill="#fff" stroke="#e4e4e4" stroke-width="0.8"/>
<path fill="#f87520" d="M511.00 143.60H514.41V144.44H511.00zM520.92 143.60H524.82V144.44H520.92zM511.81 144.44H515.71V145.75H511.81zM522.22 144.44H525.00V145.75H522.22zM513.11 145.75H517.01V147.05H513.11zM523.52 145.75H525.00V147.05H523.52zM514.41 147.05H518.31V148.35H514.41zM524.82 147.05H525.00V148.35H524.82zM515.71 148.35H519.61V149.65H515.71zM517.01 149.65H520.92V150.95H517.01zM511.00 150.95H511.81V152.25H511.00zM518.31 150.95H522.22V152.25H518.31zM511.00 152.25H513.11V153.55H511.00zM519.61 152.25H523.52V153.55H519.61zM511.00 153.55H514.41V154.85H511.00zM520.92 153.55H524.82V154.85H520.92zM511.81 154.85H515.71V156.16H511.81zM522.22 154.85H525.00V156.16H522.22zM513.11 156.16H517.01V157.46H513.11zM523.52 156.16H525.00V157.46H523.52zM514.41 157.46H518.31V158.76H514.41zM524.82 157.46H525.00V158.76H524.82zM515.71 158.76H519.61V160.06H515.71zM517.01 160.06H520.92V161.36H517.01zM511.00 161.36H511.81V162.66H511.00zM518.31 161.36H522.22V162.66H518.31zM511.00 162.66H513.11V163.96H511.00zM519.61 162.66H523.52V163.96H519.61zM511.00 163.96H514.41V165.27H511.00zM520.92 163.96H524.82V165.27H520.92zM511.81 165.27H515.71V166.57H511.81zM522.22 165.27H525.00V166.57H522.22zM513.11 166.57H517.01V167.87H513.11zM523.52 166.57H525.00V167.87H523.52zM514.41 167.87H518.31V169.17H514.41zM524.82 167.87H525.00V169.17H524.82zM515.71 169.17H519.61V170.47H515.71zM517.01 170.47H520.92V171.77H517.01zM511.00 171.77H511.81V173.07H511.00zM518.31 171.77H522.22V173.07H518.31zM511.00 173.07H513.11V174.37H511.00zM519.61 173.07H523.52V174.37H519.61zM511.00 174.37H514.41V175.68H511.00zM520.92 174.37H524.82V175.68H520.92zM511.81 175.68H515.71V176.98H511.81zM522.22 175.68H525.00V176.98H522.22zM513.11 176.98H517.01V178.28H513.11zM523.52 176.98H525.00V178.28H523.52zM514.41 178.28H518.31V179.58H514.41zM524.82 178.28H525.00V179.58H524.82zM515.71 179.58H519.61V180.88H515.71zM517.01 180.88H520.92V182.18H517.01zM511.00 182.18H511.81V183.48H511.00zM518.31 182.18H522.22V183.48H518.31zM511.00 183.48H513.11V184.78H511.00zM519.61 183.48H523.52V184.78H519.61zM511.00 184.78H514.41V186.09H511.00zM520.92 184.78H524.82V186.09H520.92zM511.81 186.09H515.71V187.39H511.81zM522.22 186.09H525.00V187.39H522.22zM513.11 187.39H517.01V188.69H513.11zM523.52 187.39H525.00V188.69H523.52zM514.41 188.69H518.31V189.99H514.41zM524.82 188.69H525.00V189.99H524.82zM515.71 189.99H519.61V191.29H515.71zM517.01 191.29H520.92V192.59H517.01zM511.00 192.59H511.81V193.89H511.00zM518.31 192.59H522.22V193.89H518.31zM511.00 193.89H513.11V195.19H511.00zM519.61 193.89H523.52V195.19H519.61zM511.00 195.19H514.41V196.50H511.00zM520.92 195.19H524.82V196.50H520.92zM511.81 196.50H515.71V197.80H511.81zM522.22 196.50H525.00V197.80H522.22zM513.11 197.80H517.01V199.10H513.11zM523.52 197.80H525.00V199.10H523.52zM514.41 199.10H518.31V200.40H514.41zM524.82 199.10H525.00V200.40H524.82zM515.71 200.40H519.61V201.70H515.71zM517.01 201.70H520.92V203.00H517.01zM511.00 203.00H511.81V204.30H511.00zM518.31 203.00H522.22V204.30H518.31zM511.00 204.30H513.11V205.61H511.00zM519.61 204.30H523.52V205.61H519.61zM511.00 205.61H514.41V206.91H511.00zM520.92 205.61H524.82V206.91H520.92zM511.81 206.91H515.71V208.21H511.81zM522.22 206.91H525.00V208.21H522.22zM513.11 208.21H517.01V209.51H513.11zM523.52 208.21H525.00V209.51H523.52zM514.41 209.51H518.31V210.81H514.41zM524.82 209.51H525.00V210.81H524.82zM515.71 210.81H519.61V212.11H515.71zM517.01 212.11H520.92V213.41H517.01zM511.00 213.41H511.81V214.71H511.00zM518.31 213.41H522.22V214.71H518.31zM511.00 214.71H513.11V216.02H511.00zM519.61 214.71H523.52V216.02H519.61zM511.00 216.02H514.41V217.32H511.00zM520.92 216.02H524.82V217.32H520.92zM511.81 217.32H515.71V218.62H511.81zM522.22 217.32H525.00V218.62H522.22zM513.11 218.62H517.01V219.92H513.11zM523.52 218.62H525.00V219.92H523.52zM514.41 219.92H518.31V221.22H514.41zM524.82 219.92H525.00V221.22H524.82zM515.71 221.22H519.61V222.52H515.71zM517.01 222.52H520.92V223.82H517.01zM511.00 223.82H511.81V225.12H511.00zM518.31 223.82H522.22V225.12H518.31zM511.00 225.12H513.11V226.43H511.00zM519.61 225.12H523.52V226.43H519.61zM511.00 226.43H514.41V227.73H511.00zM520.92 226.43H524.82V227.73H520.92zM511.81 227.73H515.71V229.03H511.81zM522.22 227.73H525.00V229.03H522.22zM513.11 229.03H517.01V230.33H513.11zM523.52 229.03H525.00V230.33H523.52zM514.41 230.33H518.31V231.63H514.41zM524.82 230.33H525.00V231.63H524.82zM515.71 231.63H519.61V232.93H515.71zM517.01 232.93H520.92V233.20H517.01z"/>
<line x1="138.0" y1="139.9" x2="138.0" y2="142.2" stroke="#383838" stroke-width="1.3"/>
<line x1="158.0" y1="35.0" x2="158.0" y2="83.0" stroke="#383838" stroke-width="1.3"/>
<line x1="178.0" y1="135.0" x2="178.0" y2="146.2" stroke="#383838" stroke-width="1.3"/>
<line x1="198.0" y1="33.0" x2="198.0" y2="91.0" stroke="#383838" stroke-width="1.3"/>
<line x1="268.0" y1="153.3" x2="268.0" y2="166.9" stroke="#383838" stroke-width="1.3"/>
<line x1="288.0" y1="150.2" x2="288.0" y2="179.6" stroke="#383838" stroke-width="1.3"/>
<line x1="328.0" y1="166.2" x2="328.0" y2="222.2" stroke="#383838" stroke-width="1.3"/>
<line x1="368.0" y1="206.3" x2="368.0" y2="261.6" stroke="#383838" stroke-width="1.3"/>
<line x1="418.0" y1="153.2" x2="418.0" y2="166.9" stroke="#383838" stroke-width="1.3"/>
<line x1="438.0" y1="149.5" x2="438.0" y2="178.0" stroke="#383838" stroke-width="1.3"/>
<line x1="458.0" y1="34.9" x2="458.0" y2="82.2" stroke="#383838" stroke-width="1.3"/>
<line x1="478.0" y1="160.1" x2="478.0" y2="223.4" stroke="#383838" stroke-width="1.3"/>
<line x1="498.0" y1="33.0" x2="498.0" y2="90.2" stroke="#383838" stroke-width="1.3"/>
<line x1="518.0" y1="206.0" x2="518.0" y2="262.1" stroke="#383838" stroke-width="1.3"/>
<text transform="translate(39.52,16.61) scale(1.0000,1)" font-size="17.5" fill="#656565">2300</text>
<text transform="translate(39.52,45.28) scale(1.0000,1)" font-size="17.5" fill="#656565">1800</text>
<text transform="translate(39.52,73.95) scale(1.0000,1)" font-size="17.5" fill="#656565">1300</text>
<text transform="translate(49.25,102.62) scale(1.0000,1)" font-size="17.5" fill="#656565">800</text>
<text transform="translate(49.25,131.29) scale(1.0000,1)" font-size="17.5" fill="#656565">300</text>
<text transform="translate(43.46,159.96) scale(1.0000,1)" font-size="17.5" fill="#656565">-200</text>
<text transform="translate(43.46,188.63) scale(1.0000,1)" font-size="17.5" fill="#656565">-700</text>
<text transform="translate(33.72,217.30) scale(1.0000,1)" font-size="17.5" fill="#656565">-1200</text>
<text transform="translate(33.72,245.97) scale(1.0000,1)" font-size="17.5" fill="#656565">-1700</text>
<text transform="translate(33.72,274.64) scale(1.0000,1)" font-size="17.5" fill="#656565">-2200</text>
<text transform="translate(17.93,271.14) rotate(-90) scale(1.0000,1)" font-size="19.1" font-weight="bold" fill="#000">Charge to Mass Ratio (pC/g)</text>
<text transform="translate(130.54,296.50) scale(1.0000,1)" font-size="18.3" font-weight="bold" fill="#737373">Positive</text>
<text transform="translate(276.94,296.50) scale(1.0000,1)" font-size="18.3" font-weight="bold" fill="#737373">Negative</text>
<text transform="translate(450.34,296.50) scale(1.0000,1)" font-size="18.3" font-weight="bold" fill="#737373">Net</text>
<rect x="38.6" y="305.7" width="506.4" height="22.1" fill="none" stroke="#d9d9d9" stroke-width="1"/>
<rect x="46.6" y="312.1" width="8.9" height="9.0" fill="#1f70d0"/>
<text transform="translate(59.09,321.90) scale(1.0000,1)" font-size="17.4" fill="#656565">AP</text>
<rect x="89.0" y="312.1" width="9.0" height="9.0" fill="#fd7e22"/>
<text transform="translate(101.65,321.90) scale(1.0000,1)" font-size="17.4" fill="#656565">DS</text>
<rect x="132.9" y="312.05" width="9.2" height="9.1" fill="#fff"/>
<path fill="#0b166c" d="M134.15 312.05H135.45V312.46H134.15zM136.75 312.05H138.05V312.46H136.75zM139.35 312.05H140.66V312.46H139.35zM141.96 312.05H142.10V312.46H141.96zM132.90 312.46H134.15V313.76H132.90zM135.45 312.46H139.35V313.76H135.45zM140.66 312.46H142.10V313.76H140.66zM134.15 313.76H135.45V315.07H134.15zM136.75 313.76H138.05V315.07H136.75zM139.35 313.76H140.66V315.07H139.35zM141.96 313.76H142.10V315.07H141.96zM132.90 315.07H136.75V316.37H132.90zM138.05 315.07H141.96V316.37H138.05zM134.15 316.37H135.45V317.67H134.15zM136.75 316.37H138.05V317.67H136.75zM139.35 316.37H140.66V317.67H139.35zM141.96 316.37H142.10V317.67H141.96zM132.90 317.67H134.15V318.97H132.90zM135.45 317.67H139.35V318.97H135.45zM140.66 317.67H142.10V318.97H140.66zM134.15 318.97H135.45V320.27H134.15zM136.75 318.97H138.05V320.27H136.75zM139.35 318.97H140.66V320.27H139.35zM141.96 318.97H142.10V320.27H141.96zM132.90 320.27H136.75V321.15H132.90zM138.05 320.27H141.96V321.15H138.05z"/>
<text transform="translate(145.59,321.90) scale(1.0000,1)" font-size="17.4" fill="#656565">AP - PVC</text>
<rect x="226.40" y="312.40" width="8.70" height="8.50" fill="#fff" stroke="#d8d8d8" stroke-width="0.6"/>
<path fill="#1f70d0" d="M227.00 313.00H230.51V313.61H227.00zM227.00 313.61H229.21V314.91H227.00zM227.00 314.91H227.91V316.22H227.00zM234.41 314.91H234.50V316.22H234.41zM233.11 316.22H234.50V317.52H233.11zM231.81 317.52H234.50V318.82H231.81zM230.51 318.82H234.41V320.12H230.51zM229.21 320.12H233.11V320.30H229.21z"/>
<text transform="translate(239.29,321.90) scale(1.0000,1)" font-size="17.4" fill="#656565">AP - S.Steel</text>
<rect x="341.1" y="312.4" width="8.2" height="8.2" fill="#fff"/>
<path fill="#e25012" d="M341.96 312.40H343.26V312.66H341.96zM344.57 312.40H345.87V312.66H344.57zM347.17 312.40H348.47V312.66H347.17zM341.10 312.66H344.57V313.96H341.10zM345.87 312.66H349.30V313.96H345.87zM341.96 313.96H343.26V315.26H341.96zM344.57 313.96H345.87V315.26H344.57zM347.17 313.96H348.47V315.26H347.17zM341.10 315.26H341.96V316.57H341.10zM343.26 315.26H347.17V316.57H343.26zM348.47 315.26H349.30V316.57H348.47zM341.96 316.57H343.26V317.87H341.96zM344.57 316.57H345.87V317.87H344.57zM347.17 316.57H348.47V317.87H347.17zM341.10 317.87H344.57V319.17H341.10zM345.87 317.87H349.30V319.17H345.87zM341.96 319.17H343.26V320.47H341.96zM344.57 319.17H345.87V320.47H344.57zM347.17 319.17H348.47V320.47H347.17zM341.10 320.47H341.96V320.60H341.10zM343.26 320.47H347.17V320.60H343.26zM348.47 320.47H349.30V320.60H348.47z"/>
<text transform="translate(353.19,321.90) scale(1.0000,1)" font-size="17.4" fill="#656565">DS - PVC</text>
<rect x="435.40" y="312.40" width="8.70" height="8.50" fill="#fff" stroke="#d8d8d8" stroke-width="0.6"/>
<path fill="#f87520" d="M441.39 313.00H443.50V313.61H441.39zM436.00 313.61H436.18V314.91H436.00zM442.69 313.61H443.50V314.91H442.69zM436.00 314.91H437.48V316.22H436.00zM436.00 316.22H438.78V317.52H436.00zM436.18 317.52H440.08V318.82H436.18zM437.48 318.82H441.39V320.12H437.48zM438.78 320.12H442.69V320.30H438.78z"/>
<text transform="translate(448.29,321.90) scale(1.0000,1)" font-size="17.4" fill="#656565">DS - S.Steel</text>
</svg></body></html>
